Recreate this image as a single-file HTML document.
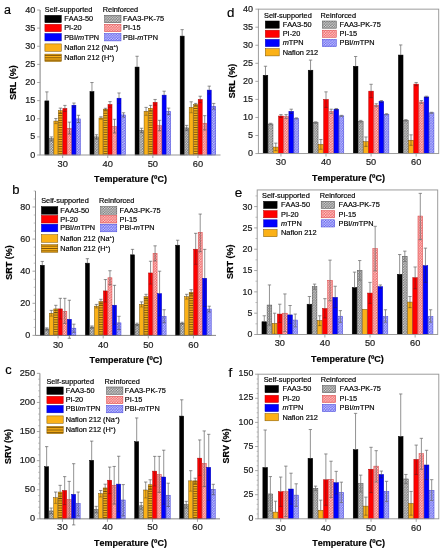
<!DOCTYPE html>
<html><head><meta charset="utf-8"><title>Swelling ratio figure</title>
<style>html,body{margin:0;padding:0;background:#fff}body{width:442px;height:550px;overflow:hidden}svg{display:block}text{font-family:"Liberation Sans", Arial, sans-serif;font-kerning:none;stroke:#000;stroke-width:0.18px;paint-order:stroke}</style>
</head><body>
<svg width="442" height="550" viewBox="0 0 442 550">
<defs>
<pattern id="pg" width="2.6" height="2.6" patternUnits="userSpaceOnUse"><rect width="2.6" height="2.6" fill="#707070"/><path d="M-0.29 0.65L0.65 -0.29L1.59 0.65L0.65 1.59ZM1.01 1.95L1.95 1.01L2.89 1.95L1.95 2.89Z" fill="#ececec"/></pattern>
<pattern id="pp" width="2.6" height="2.6" patternUnits="userSpaceOnUse"><rect width="2.6" height="2.6" fill="#f05c5c"/><path d="M-0.29 0.65L0.65 -0.29L1.59 0.65L0.65 1.59ZM1.01 1.95L1.95 1.01L2.89 1.95L1.95 2.89Z" fill="#ffe2e2"/></pattern>
<pattern id="pb" width="2.6" height="2.6" patternUnits="userSpaceOnUse"><rect width="2.6" height="2.6" fill="#5c5cf0"/><path d="M-0.29 0.65L0.65 -0.29L1.59 0.65L0.65 1.59ZM1.01 1.95L1.95 1.01L2.89 1.95L1.95 2.89Z" fill="#e2e2ff"/></pattern>
<pattern id="po" width="4" height="2.38" patternUnits="userSpaceOnUse"><rect width="4" height="2.38" fill="#fbb117"/><path d="M0 1.19H4" stroke="#7a4e00" stroke-width="0.95"/></pattern>
</defs>
<rect width="442" height="550" fill="#fff"/>
<g>
<rect x="44.86" y="100.9" width="4.01" height="54.1" fill="#000000" stroke="#000000" stroke-width="0.5"/>
<path d="M46.87 91.9V100.9M45.22 91.9H48.52" stroke="#4a4a4a" stroke-width="0.6" fill="none"/>
<rect x="49.37" y="138.7" width="4.01" height="16.3" fill="url(#pg)" stroke="#4a4a4a" stroke-width="0.5"/>
<path d="M51.38 136.9V138.7M49.73 136.9H53.02" stroke="#4a4a4a" stroke-width="0.6" fill="none"/>
<path d="M51.38 138.7V140.86M49.73 140.86H53.02" stroke="#4a4a4a" stroke-width="0.6" fill="none"/>
<rect x="53.88" y="121.06" width="4.01" height="33.94" fill="#fbb117" stroke="#7a5200" stroke-width="0.5"/>
<path d="M55.89 118.54V121.06M54.24 118.54H57.54" stroke="#4a4a4a" stroke-width="0.6" fill="none"/>
<path d="M55.89 121.06V123.58M54.24 123.58H57.54" stroke="#222" stroke-width="0.6" fill="none" opacity="0.55"/>
<rect x="58.39" y="110.62" width="4.01" height="44.38" fill="#fbb117" stroke="#7a5200" stroke-width="0.5"/>
<path d="M58.44 153.7H62.35M58.44 151.32H62.35M58.44 148.94H62.35M58.44 146.56H62.35M58.44 144.18H62.35M58.44 141.8H62.35M58.44 139.42H62.35M58.44 137.04H62.35M58.44 134.66H62.35M58.44 132.28H62.35M58.44 129.9H62.35M58.44 127.52H62.35M58.44 125.14H62.35M58.44 122.76H62.35M58.44 120.38H62.35M58.44 118H62.35M58.44 115.62H62.35M58.44 113.24H62.35" stroke="#4e3000" stroke-width="0.7" fill="none"/>
<path d="M60.4 108.1V110.62M58.75 108.1H62.05" stroke="#4a4a4a" stroke-width="0.6" fill="none"/>
<path d="M60.4 110.62V113.14M58.75 113.14H62.05" stroke="#222" stroke-width="0.6" fill="none" opacity="0.55"/>
<rect x="62.9" y="108.46" width="4.01" height="46.54" fill="#ff0000" stroke="#b00000" stroke-width="0.5"/>
<path d="M64.91 105.4V108.46M63.26 105.4H66.56" stroke="#4a4a4a" stroke-width="0.6" fill="none"/>
<path d="M64.91 108.46V111.52M63.26 111.52H66.56" stroke="#222" stroke-width="0.6" fill="none" opacity="0.55"/>
<rect x="67.41" y="128.26" width="4.01" height="26.74" fill="url(#pp)" stroke="#d84040" stroke-width="0.5"/>
<path d="M69.41 122.14V128.26M67.76 122.14H71.06" stroke="#4a4a4a" stroke-width="0.6" fill="none"/>
<path d="M69.41 128.26V134.02M67.76 134.02H71.06" stroke="#4a4a4a" stroke-width="0.6" fill="none"/>
<rect x="71.92" y="105.22" width="4.01" height="49.78" fill="#0000ff" stroke="#0000b0" stroke-width="0.5"/>
<path d="M73.92 103.06V105.22M72.27 103.06H75.58" stroke="#4a4a4a" stroke-width="0.6" fill="none"/>
<path d="M73.92 105.22V107.38M72.27 107.38H75.58" stroke="#222" stroke-width="0.6" fill="none" opacity="0.55"/>
<rect x="76.43" y="118.9" width="4.01" height="36.1" fill="url(#pb)" stroke="#4040d8" stroke-width="0.5"/>
<path d="M78.44 115.3V118.9M76.78 115.3H80.09" stroke="#4a4a4a" stroke-width="0.6" fill="none"/>
<path d="M78.44 118.9V122.5M76.78 122.5H80.09" stroke="#4a4a4a" stroke-width="0.6" fill="none"/>
<rect x="89.96" y="91.54" width="4.01" height="63.46" fill="#000000" stroke="#000000" stroke-width="0.5"/>
<path d="M91.96 82.54V91.54M90.31 82.54H93.61" stroke="#4a4a4a" stroke-width="0.6" fill="none"/>
<rect x="94.47" y="136.9" width="4.01" height="18.1" fill="url(#pg)" stroke="#4a4a4a" stroke-width="0.5"/>
<path d="M96.47 134.74V136.9M94.82 134.74H98.12" stroke="#4a4a4a" stroke-width="0.6" fill="none"/>
<path d="M96.47 136.9V139.06M94.82 139.06H98.12" stroke="#4a4a4a" stroke-width="0.6" fill="none"/>
<rect x="98.98" y="118" width="4.01" height="37" fill="#fbb117" stroke="#7a5200" stroke-width="0.5"/>
<path d="M100.98 116.74V118M99.33 116.74H102.63" stroke="#4a4a4a" stroke-width="0.6" fill="none"/>
<path d="M100.98 118V119.26M99.33 119.26H102.63" stroke="#222" stroke-width="0.6" fill="none" opacity="0.55"/>
<rect x="103.49" y="109.18" width="4.01" height="45.82" fill="#fbb117" stroke="#7a5200" stroke-width="0.5"/>
<path d="M103.54 153.7H107.45M103.54 151.32H107.45M103.54 148.94H107.45M103.54 146.56H107.45M103.54 144.18H107.45M103.54 141.8H107.45M103.54 139.42H107.45M103.54 137.04H107.45M103.54 134.66H107.45M103.54 132.28H107.45M103.54 129.9H107.45M103.54 127.52H107.45M103.54 125.14H107.45M103.54 122.76H107.45M103.54 120.38H107.45M103.54 118H107.45M103.54 115.62H107.45M103.54 113.24H107.45M103.54 110.86H107.45" stroke="#4e3000" stroke-width="0.7" fill="none"/>
<path d="M105.49 108.28V109.18M103.84 108.28H107.14" stroke="#4a4a4a" stroke-width="0.6" fill="none"/>
<path d="M105.49 109.18V110.08M103.84 110.08H107.14" stroke="#222" stroke-width="0.6" fill="none" opacity="0.55"/>
<rect x="108" y="104.5" width="4.01" height="50.5" fill="#ff0000" stroke="#b00000" stroke-width="0.5"/>
<path d="M110 101.62V104.5M108.35 101.62H111.66" stroke="#4a4a4a" stroke-width="0.6" fill="none"/>
<path d="M110 104.5V107.38M108.35 107.38H111.66" stroke="#222" stroke-width="0.6" fill="none" opacity="0.55"/>
<rect x="112.51" y="126.46" width="4.01" height="28.54" fill="url(#pp)" stroke="#d84040" stroke-width="0.5"/>
<path d="M114.51 119.26V126.46M112.86 119.26H116.16" stroke="#4a4a4a" stroke-width="0.6" fill="none"/>
<path d="M114.51 126.46V132.94M112.86 132.94H116.16" stroke="#4a4a4a" stroke-width="0.6" fill="none"/>
<rect x="117.02" y="98.2" width="4.01" height="56.8" fill="#0000ff" stroke="#0000b0" stroke-width="0.5"/>
<path d="M119.02 92.98V98.2M117.37 92.98H120.67" stroke="#4a4a4a" stroke-width="0.6" fill="none"/>
<path d="M119.02 98.2V103.42M117.37 103.42H120.67" stroke="#222" stroke-width="0.6" fill="none" opacity="0.55"/>
<rect x="121.53" y="114.94" width="4.01" height="40.06" fill="url(#pb)" stroke="#4040d8" stroke-width="0.5"/>
<path d="M123.53 112.78V114.94M121.88 112.78H125.19" stroke="#4a4a4a" stroke-width="0.6" fill="none"/>
<path d="M123.53 114.94V117.1M121.88 117.1H125.19" stroke="#4a4a4a" stroke-width="0.6" fill="none"/>
<rect x="135.06" y="67.06" width="4.01" height="87.94" fill="#000000" stroke="#000000" stroke-width="0.5"/>
<path d="M137.06 56.26V67.06M135.41 56.26H138.72" stroke="#4a4a4a" stroke-width="0.6" fill="none"/>
<rect x="139.57" y="130.42" width="4.01" height="24.58" fill="url(#pg)" stroke="#4a4a4a" stroke-width="0.5"/>
<path d="M141.57 128.26V130.42M139.92 128.26H143.22" stroke="#4a4a4a" stroke-width="0.6" fill="none"/>
<path d="M141.57 130.42V132.58M139.92 132.58H143.22" stroke="#4a4a4a" stroke-width="0.6" fill="none"/>
<rect x="144.08" y="111.34" width="4.01" height="43.66" fill="#fbb117" stroke="#7a5200" stroke-width="0.5"/>
<path d="M146.09 107.38V111.34M144.44 107.38H147.74" stroke="#4a4a4a" stroke-width="0.6" fill="none"/>
<path d="M146.09 111.34V115.3M144.44 115.3H147.74" stroke="#222" stroke-width="0.6" fill="none" opacity="0.55"/>
<rect x="148.59" y="108.28" width="4.01" height="46.72" fill="#fbb117" stroke="#7a5200" stroke-width="0.5"/>
<path d="M148.64 153.7H152.55M148.64 151.32H152.55M148.64 148.94H152.55M148.64 146.56H152.55M148.64 144.18H152.55M148.64 141.8H152.55M148.64 139.42H152.55M148.64 137.04H152.55M148.64 134.66H152.55M148.64 132.28H152.55M148.64 129.9H152.55M148.64 127.52H152.55M148.64 125.14H152.55M148.64 122.76H152.55M148.64 120.38H152.55M148.64 118H152.55M148.64 115.62H152.55M148.64 113.24H152.55M148.64 110.86H152.55" stroke="#4e3000" stroke-width="0.7" fill="none"/>
<path d="M150.59 105.4V108.28M148.94 105.4H152.25" stroke="#4a4a4a" stroke-width="0.6" fill="none"/>
<path d="M150.59 108.28V111.16M148.94 111.16H152.25" stroke="#222" stroke-width="0.6" fill="none" opacity="0.55"/>
<rect x="153.1" y="102.34" width="4.01" height="52.66" fill="#ff0000" stroke="#b00000" stroke-width="0.5"/>
<path d="M155.1 99.46V102.34M153.45 99.46H156.75" stroke="#4a4a4a" stroke-width="0.6" fill="none"/>
<path d="M155.1 102.34V105.22M153.45 105.22H156.75" stroke="#222" stroke-width="0.6" fill="none" opacity="0.55"/>
<rect x="157.61" y="125.74" width="4.01" height="29.26" fill="url(#pp)" stroke="#d84040" stroke-width="0.5"/>
<path d="M159.62 120.34V125.74M157.97 120.34H161.27" stroke="#4a4a4a" stroke-width="0.6" fill="none"/>
<path d="M159.62 125.74V130.78M157.97 130.78H161.27" stroke="#4a4a4a" stroke-width="0.6" fill="none"/>
<rect x="162.12" y="95.14" width="4.01" height="59.86" fill="#0000ff" stroke="#0000b0" stroke-width="0.5"/>
<path d="M164.12 91.18V95.14M162.47 91.18H165.78" stroke="#4a4a4a" stroke-width="0.6" fill="none"/>
<path d="M164.12 95.14V99.1M162.47 99.1H165.78" stroke="#222" stroke-width="0.6" fill="none" opacity="0.55"/>
<rect x="166.63" y="111.34" width="4.01" height="43.66" fill="url(#pb)" stroke="#4040d8" stroke-width="0.5"/>
<path d="M168.63 108.1V111.34M166.98 108.1H170.28" stroke="#4a4a4a" stroke-width="0.6" fill="none"/>
<path d="M168.63 111.34V114.58M166.98 114.58H170.28" stroke="#4a4a4a" stroke-width="0.6" fill="none"/>
<rect x="180.16" y="36.1" width="4.01" height="118.9" fill="#000000" stroke="#000000" stroke-width="0.5"/>
<path d="M182.16 29.62V36.1M180.51 29.62H183.81" stroke="#4a4a4a" stroke-width="0.6" fill="none"/>
<rect x="184.67" y="127.9" width="4.01" height="27.1" fill="url(#pg)" stroke="#4a4a4a" stroke-width="0.5"/>
<path d="M186.67 125.38V127.9M185.02 125.38H188.32" stroke="#4a4a4a" stroke-width="0.6" fill="none"/>
<path d="M186.67 127.9V130.42M185.02 130.42H188.32" stroke="#4a4a4a" stroke-width="0.6" fill="none"/>
<rect x="189.18" y="107.38" width="4.01" height="47.62" fill="#fbb117" stroke="#7a5200" stroke-width="0.5"/>
<path d="M191.19 101.8V107.38M189.53 101.8H192.84" stroke="#4a4a4a" stroke-width="0.6" fill="none"/>
<path d="M191.19 107.38V112.78M189.53 112.78H192.84" stroke="#222" stroke-width="0.6" fill="none" opacity="0.55"/>
<rect x="193.69" y="104.5" width="4.01" height="50.5" fill="#fbb117" stroke="#7a5200" stroke-width="0.5"/>
<path d="M193.74 153.7H197.65M193.74 151.32H197.65M193.74 148.94H197.65M193.74 146.56H197.65M193.74 144.18H197.65M193.74 141.8H197.65M193.74 139.42H197.65M193.74 137.04H197.65M193.74 134.66H197.65M193.74 132.28H197.65M193.74 129.9H197.65M193.74 127.52H197.65M193.74 125.14H197.65M193.74 122.76H197.65M193.74 120.38H197.65M193.74 118H197.65M193.74 115.62H197.65M193.74 113.24H197.65M193.74 110.86H197.65M193.74 108.48H197.65M193.74 106.1H197.65" stroke="#4e3000" stroke-width="0.7" fill="none"/>
<path d="M195.69 103.42V104.5M194.04 103.42H197.34" stroke="#4a4a4a" stroke-width="0.6" fill="none"/>
<path d="M195.69 104.5V105.58M194.04 105.58H197.34" stroke="#222" stroke-width="0.6" fill="none" opacity="0.55"/>
<rect x="198.2" y="99.46" width="4.01" height="55.54" fill="#ff0000" stroke="#b00000" stroke-width="0.5"/>
<path d="M200.2 96.22V99.46M198.55 96.22H201.85" stroke="#4a4a4a" stroke-width="0.6" fill="none"/>
<path d="M200.2 99.46V102.7M198.55 102.7H201.85" stroke="#222" stroke-width="0.6" fill="none" opacity="0.55"/>
<rect x="202.71" y="123.22" width="4.01" height="31.78" fill="url(#pp)" stroke="#d84040" stroke-width="0.5"/>
<path d="M204.72 115.66V123.22M203.06 115.66H206.37" stroke="#4a4a4a" stroke-width="0.6" fill="none"/>
<path d="M204.72 123.22V130.06M203.06 130.06H206.37" stroke="#4a4a4a" stroke-width="0.6" fill="none"/>
<rect x="207.22" y="90.1" width="4.01" height="64.9" fill="#0000ff" stroke="#0000b0" stroke-width="0.5"/>
<path d="M209.22 86.14V90.1M207.57 86.14H210.88" stroke="#4a4a4a" stroke-width="0.6" fill="none"/>
<path d="M209.22 90.1V94.06M207.57 94.06H210.88" stroke="#222" stroke-width="0.6" fill="none" opacity="0.55"/>
<rect x="211.73" y="106.3" width="4.01" height="48.7" fill="url(#pb)" stroke="#4040d8" stroke-width="0.5"/>
<path d="M213.73 103.42V106.3M212.08 103.42H215.38" stroke="#4a4a4a" stroke-width="0.6" fill="none"/>
<path d="M213.73 106.3V109.18M212.08 109.18H215.38" stroke="#4a4a4a" stroke-width="0.6" fill="none"/>
<path d="M40.1 10V155H220.5" fill="none" stroke="#989898" stroke-width="1.2"/>
<text x="35.3" y="157.52" font-size="9" text-anchor="end" fill="#1a1a1a">0</text>
<text x="35.3" y="139.4" font-size="9" text-anchor="end" fill="#1a1a1a">5</text>
<text x="35.3" y="121.27" font-size="9" text-anchor="end" fill="#1a1a1a">10</text>
<text x="35.3" y="103.15" font-size="9" text-anchor="end" fill="#1a1a1a">15</text>
<text x="35.3" y="85.02" font-size="9" text-anchor="end" fill="#1a1a1a">20</text>
<text x="35.3" y="66.9" font-size="9" text-anchor="end" fill="#1a1a1a">25</text>
<text x="35.3" y="48.77" font-size="9" text-anchor="end" fill="#1a1a1a">30</text>
<text x="35.3" y="30.65" font-size="9" text-anchor="end" fill="#1a1a1a">35</text>
<text x="35.3" y="12.52" font-size="9" text-anchor="end" fill="#1a1a1a">40</text>
<path d="M37.1 155H40.1M37.1 136.88H40.1M37.1 118.75H40.1M37.1 100.62H40.1M37.1 82.5H40.1M37.1 64.38H40.1M37.1 46.25H40.1M37.1 28.12H40.1M37.1 10H40.1" stroke="#909090" stroke-width="0.8" fill="none"/>
<text x="62.65" y="167" font-size="9.3" text-anchor="middle" fill="#1a1a1a">30</text>
<text x="107.75" y="167" font-size="9.3" text-anchor="middle" fill="#1a1a1a">40</text>
<text x="152.85" y="167" font-size="9.3" text-anchor="middle" fill="#1a1a1a">50</text>
<text x="197.95" y="167" font-size="9.3" text-anchor="middle" fill="#1a1a1a">60</text>
<path d="M62.65 155V158M107.75 155V158M152.85 155V158M197.95 155V158" stroke="#909090" stroke-width="0.8" fill="none"/>
<text x="130.5" y="182.3" font-size="9" font-weight="bold" text-anchor="middle" fill="#000">Temperature (ºC)</text>
<text transform="translate(15.9 82.5) rotate(-90)" font-size="9" font-weight="bold" text-anchor="middle" fill="#000">SRL (%)</text>
<text x="4" y="13.6" font-size="12.5" fill="#000">a</text>
<text x="44.8" y="11.8" font-size="7.32" fill="#000">Self-supported</text>
<rect x="44.9" y="15.3" width="16.4" height="7.4" fill="#000000" stroke="#000000" stroke-width="0.5"/>
<text x="64.2" y="21.32" font-size="7.32" fill="#000">FAA3-50</text>
<rect x="44.9" y="24.3" width="16.4" height="7.4" fill="#ff0000" stroke="#b00000" stroke-width="0.5"/>
<text x="64.2" y="30.32" font-size="7.32" fill="#000">PI-20</text>
<rect x="44.9" y="33.5" width="16.4" height="7.4" fill="#0000ff" stroke="#0000b0" stroke-width="0.5"/>
<text x="64.2" y="39.52" font-size="7.32" fill="#000">PBI/<tspan font-style="italic">m</tspan><tspan dx="0.3">TPN</tspan></text>
<rect x="44.9" y="43.9" width="16.4" height="7.4" fill="#fbb117" stroke="#7a5200" stroke-width="0.5"/>
<text x="64.2" y="49.92" font-size="7.32" fill="#000">Nafion 212 (Na<tspan dy="-3" font-size="4.2">+</tspan><tspan dy="3">)</tspan></text>
<rect x="44.9" y="54.1" width="16.4" height="7.4" fill="#fbb117" stroke="#7a5200" stroke-width="0.5"/>
<path d="M44.9 55.42H61.3M44.9 57.8H61.3M44.9 60.18H61.3" stroke="#4e3000" stroke-width="0.7" fill="none"/>
<text x="64.2" y="60.12" font-size="7.32" fill="#000">Nafion 212 (H<tspan dy="-3" font-size="4.2">+</tspan><tspan dy="3">)</tspan></text>
<text x="102.8" y="11.8" font-size="7.32" fill="#000">Reinforced</text>
<rect x="104.6" y="15.3" width="16.4" height="7.4" fill="url(#pg)" stroke="#4a4a4a" stroke-width="0.5"/>
<text x="123" y="21.32" font-size="7.32" fill="#000">FAA3-PK-75</text>
<rect x="104.6" y="24.3" width="16.4" height="7.4" fill="url(#pp)" stroke="#d84040" stroke-width="0.5"/>
<text x="123" y="30.32" font-size="7.32" fill="#000">PI-15</text>
<rect x="104.6" y="33.5" width="16.4" height="7.4" fill="url(#pb)" stroke="#4040d8" stroke-width="0.5"/>
<text x="123" y="39.52" font-size="7.32" fill="#000">PBI-<tspan font-style="italic">m</tspan>TPN</text>
</g>
<g>
<rect x="40.26" y="265.26" width="4.01" height="70.14" fill="#000000" stroke="#000000" stroke-width="0.5"/>
<path d="M42.27 261.41V265.26M40.62 261.41H43.92" stroke="#4a4a4a" stroke-width="0.6" fill="none"/>
<rect x="44.78" y="328.98" width="4.01" height="6.42" fill="url(#pg)" stroke="#4a4a4a" stroke-width="0.5"/>
<path d="M46.78 327.86V328.98M45.13 327.86H48.43" stroke="#4a4a4a" stroke-width="0.6" fill="none"/>
<path d="M46.78 328.98V330.1M45.13 330.1H48.43" stroke="#4a4a4a" stroke-width="0.6" fill="none"/>
<rect x="49.29" y="313.25" width="4.01" height="22.15" fill="#fbb117" stroke="#7a5200" stroke-width="0.5"/>
<path d="M51.29 310.36V313.25M49.64 310.36H52.94" stroke="#4a4a4a" stroke-width="0.6" fill="none"/>
<path d="M51.29 313.25V316.14M49.64 316.14H52.94" stroke="#222" stroke-width="0.6" fill="none" opacity="0.55"/>
<rect x="53.8" y="308.92" width="4.01" height="26.48" fill="#fbb117" stroke="#7a5200" stroke-width="0.5"/>
<path d="M53.85 334.1H57.76M53.85 331.72H57.76M53.85 329.34H57.76M53.85 326.96H57.76M53.85 324.58H57.76M53.85 322.2H57.76M53.85 319.82H57.76M53.85 317.44H57.76M53.85 315.06H57.76M53.85 312.68H57.76M53.85 310.3H57.76" stroke="#4e3000" stroke-width="0.7" fill="none"/>
<path d="M55.81 305.31V308.92M54.16 305.31H57.46" stroke="#4a4a4a" stroke-width="0.6" fill="none"/>
<path d="M55.81 308.92V312.61M54.16 312.61H57.46" stroke="#222" stroke-width="0.6" fill="none" opacity="0.55"/>
<rect x="58.31" y="308.92" width="4.01" height="26.48" fill="#ff0000" stroke="#b00000" stroke-width="0.5"/>
<path d="M60.32 298.32V308.92M58.67 298.32H61.97" stroke="#4a4a4a" stroke-width="0.6" fill="none"/>
<path d="M60.32 308.92V319.03M58.67 319.03H61.97" stroke="#222" stroke-width="0.6" fill="none" opacity="0.55"/>
<rect x="62.83" y="311.32" width="4.01" height="24.07" fill="url(#pp)" stroke="#d84040" stroke-width="0.5"/>
<path d="M64.83 298.32V311.32M63.18 298.32H66.48" stroke="#4a4a4a" stroke-width="0.6" fill="none"/>
<path d="M64.83 311.32V323.36M63.18 323.36H66.48" stroke="#4a4a4a" stroke-width="0.6" fill="none"/>
<rect x="67.34" y="319.35" width="4.01" height="16.05" fill="#0000ff" stroke="#0000b0" stroke-width="0.5"/>
<path d="M69.34 300.25V319.35M67.69 300.25H70.99" stroke="#4a4a4a" stroke-width="0.6" fill="none"/>
<path d="M69.34 319.35V335.4" stroke="#222" stroke-width="0.6" fill="none" opacity="0.55"/>
<path d="M69.34 335.4V338.29M67.69 338.29H70.99" stroke="#4a4a4a" stroke-width="0.6" fill="none"/>
<rect x="71.85" y="328.18" width="4.01" height="7.22" fill="url(#pb)" stroke="#4040d8" stroke-width="0.5"/>
<path d="M73.86 324.16V328.18M72.21 324.16H75.51" stroke="#4a4a4a" stroke-width="0.6" fill="none"/>
<path d="M73.86 328.18V332.35M72.21 332.35H75.51" stroke="#4a4a4a" stroke-width="0.6" fill="none"/>
<rect x="85.39" y="263.17" width="4.01" height="72.23" fill="#000000" stroke="#000000" stroke-width="0.5"/>
<path d="M87.39 258.68V263.17M85.74 258.68H89.04" stroke="#4a4a4a" stroke-width="0.6" fill="none"/>
<rect x="89.9" y="327.05" width="4.01" height="8.35" fill="url(#pg)" stroke="#4a4a4a" stroke-width="0.5"/>
<path d="M91.91 325.93V327.05M90.26 325.93H93.56" stroke="#4a4a4a" stroke-width="0.6" fill="none"/>
<path d="M91.91 327.05V328.18M90.26 328.18H93.56" stroke="#4a4a4a" stroke-width="0.6" fill="none"/>
<rect x="94.41" y="306.19" width="4.01" height="29.21" fill="#fbb117" stroke="#7a5200" stroke-width="0.5"/>
<path d="M96.42 304.42V306.19M94.77 304.42H98.07" stroke="#4a4a4a" stroke-width="0.6" fill="none"/>
<path d="M96.42 306.19V307.95M94.77 307.95H98.07" stroke="#222" stroke-width="0.6" fill="none" opacity="0.55"/>
<rect x="98.93" y="301.69" width="4.01" height="33.7" fill="#fbb117" stroke="#7a5200" stroke-width="0.5"/>
<path d="M98.98 334.1H102.89M98.98 331.72H102.89M98.98 329.34H102.89M98.98 326.96H102.89M98.98 324.58H102.89M98.98 322.2H102.89M98.98 319.82H102.89M98.98 317.44H102.89M98.98 315.06H102.89M98.98 312.68H102.89M98.98 310.3H102.89M98.98 307.92H102.89M98.98 305.54H102.89M98.98 303.16H102.89" stroke="#4e3000" stroke-width="0.7" fill="none"/>
<path d="M100.93 299.29V301.69M99.28 299.29H102.58" stroke="#4a4a4a" stroke-width="0.6" fill="none"/>
<path d="M100.93 301.69V304.1M99.28 304.1H102.58" stroke="#222" stroke-width="0.6" fill="none" opacity="0.55"/>
<rect x="103.44" y="290.94" width="4.01" height="44.46" fill="#ff0000" stroke="#b00000" stroke-width="0.5"/>
<path d="M105.44 279.55V290.94M103.79 279.55H107.09" stroke="#4a4a4a" stroke-width="0.6" fill="none"/>
<path d="M105.44 290.94V302.02M103.79 302.02H107.09" stroke="#222" stroke-width="0.6" fill="none" opacity="0.55"/>
<rect x="107.95" y="277.78" width="4.01" height="57.62" fill="url(#pp)" stroke="#d84040" stroke-width="0.5"/>
<path d="M109.96 270.72V277.78M108.31 270.72H111.61" stroke="#4a4a4a" stroke-width="0.6" fill="none"/>
<path d="M109.96 277.78V284.84M108.31 284.84H111.61" stroke="#4a4a4a" stroke-width="0.6" fill="none"/>
<rect x="112.46" y="305.23" width="4.01" height="30.17" fill="#0000ff" stroke="#0000b0" stroke-width="0.5"/>
<path d="M114.47 285.32V305.23M112.82 285.32H116.12" stroke="#4a4a4a" stroke-width="0.6" fill="none"/>
<path d="M114.47 305.23V324.33M112.82 324.33H116.12" stroke="#222" stroke-width="0.6" fill="none" opacity="0.55"/>
<rect x="116.98" y="322.88" width="4.01" height="12.52" fill="url(#pb)" stroke="#4040d8" stroke-width="0.5"/>
<path d="M118.98 316.3V322.88M117.33 316.3H120.63" stroke="#4a4a4a" stroke-width="0.6" fill="none"/>
<path d="M118.98 322.88V329.62M117.33 329.62H120.63" stroke="#4a4a4a" stroke-width="0.6" fill="none"/>
<rect x="130.51" y="254.83" width="4.01" height="80.57" fill="#000000" stroke="#000000" stroke-width="0.5"/>
<path d="M132.52 249.37V254.83M130.87 249.37H134.17" stroke="#4a4a4a" stroke-width="0.6" fill="none"/>
<rect x="135.02" y="324.33" width="4.01" height="11.07" fill="url(#pg)" stroke="#4a4a4a" stroke-width="0.5"/>
<path d="M137.03 323.2V324.33M135.38 323.2H138.68" stroke="#4a4a4a" stroke-width="0.6" fill="none"/>
<path d="M137.03 324.33V325.45M135.38 325.45H138.68" stroke="#4a4a4a" stroke-width="0.6" fill="none"/>
<rect x="139.54" y="304.42" width="4.01" height="30.98" fill="#fbb117" stroke="#7a5200" stroke-width="0.5"/>
<path d="M141.54 301.86V304.42M139.89 301.86H143.19" stroke="#4a4a4a" stroke-width="0.6" fill="none"/>
<path d="M141.54 304.42V306.99M139.89 306.99H143.19" stroke="#222" stroke-width="0.6" fill="none" opacity="0.55"/>
<rect x="144.05" y="296.72" width="4.01" height="38.68" fill="#fbb117" stroke="#7a5200" stroke-width="0.5"/>
<path d="M144.1 334.1H148.01M144.1 331.72H148.01M144.1 329.34H148.01M144.1 326.96H148.01M144.1 324.58H148.01M144.1 322.2H148.01M144.1 319.82H148.01M144.1 317.44H148.01M144.1 315.06H148.01M144.1 312.68H148.01M144.1 310.3H148.01M144.1 307.92H148.01M144.1 305.54H148.01M144.1 303.16H148.01M144.1 300.78H148.01M144.1 298.4H148.01" stroke="#4e3000" stroke-width="0.7" fill="none"/>
<path d="M146.06 294.31V296.72M144.41 294.31H147.71" stroke="#4a4a4a" stroke-width="0.6" fill="none"/>
<path d="M146.06 296.72V299.13M144.41 299.13H147.71" stroke="#222" stroke-width="0.6" fill="none" opacity="0.55"/>
<rect x="148.56" y="272.97" width="4.01" height="62.43" fill="#ff0000" stroke="#b00000" stroke-width="0.5"/>
<path d="M150.57 261.25V272.97M148.92 261.25H152.22" stroke="#4a4a4a" stroke-width="0.6" fill="none"/>
<path d="M150.57 272.97V284.04M148.92 284.04H152.22" stroke="#222" stroke-width="0.6" fill="none" opacity="0.55"/>
<rect x="153.07" y="253.38" width="4.01" height="82.02" fill="url(#pp)" stroke="#d84040" stroke-width="0.5"/>
<path d="M155.08 245.84V253.38M153.43 245.84H156.73" stroke="#4a4a4a" stroke-width="0.6" fill="none"/>
<path d="M155.08 253.38V260.93M153.43 260.93H156.73" stroke="#4a4a4a" stroke-width="0.6" fill="none"/>
<rect x="157.59" y="293.67" width="4.01" height="41.73" fill="#0000ff" stroke="#0000b0" stroke-width="0.5"/>
<path d="M159.59 271.2V293.67M157.94 271.2H161.24" stroke="#4a4a4a" stroke-width="0.6" fill="none"/>
<path d="M159.59 293.67V315.82M157.94 315.82H161.24" stroke="#222" stroke-width="0.6" fill="none" opacity="0.55"/>
<rect x="162.1" y="316.3" width="4.01" height="19.1" fill="url(#pb)" stroke="#4040d8" stroke-width="0.5"/>
<path d="M164.11 309.72V316.3M162.46 309.72H165.76" stroke="#4a4a4a" stroke-width="0.6" fill="none"/>
<path d="M164.11 316.3V322.72M162.46 322.72H165.76" stroke="#4a4a4a" stroke-width="0.6" fill="none"/>
<rect x="175.64" y="245.2" width="4.01" height="90.2" fill="#000000" stroke="#000000" stroke-width="0.5"/>
<path d="M177.64 240.22V245.2M175.99 240.22H179.29" stroke="#4a4a4a" stroke-width="0.6" fill="none"/>
<rect x="180.15" y="323.2" width="4.01" height="12.2" fill="url(#pg)" stroke="#4a4a4a" stroke-width="0.5"/>
<path d="M182.16 322.24V323.2M180.51 322.24H183.81" stroke="#4a4a4a" stroke-width="0.6" fill="none"/>
<path d="M182.16 323.2V324.16M180.51 324.16H183.81" stroke="#4a4a4a" stroke-width="0.6" fill="none"/>
<rect x="184.66" y="296.72" width="4.01" height="38.68" fill="#fbb117" stroke="#7a5200" stroke-width="0.5"/>
<path d="M186.67 294.31V296.72M185.02 294.31H188.32" stroke="#4a4a4a" stroke-width="0.6" fill="none"/>
<path d="M186.67 296.72V299.13M185.02 299.13H188.32" stroke="#222" stroke-width="0.6" fill="none" opacity="0.55"/>
<rect x="189.17" y="292.39" width="4.01" height="43.01" fill="#fbb117" stroke="#7a5200" stroke-width="0.5"/>
<path d="M189.22 334.1H193.14M189.22 331.72H193.14M189.22 329.34H193.14M189.22 326.96H193.14M189.22 324.58H193.14M189.22 322.2H193.14M189.22 319.82H193.14M189.22 317.44H193.14M189.22 315.06H193.14M189.22 312.68H193.14M189.22 310.3H193.14M189.22 307.92H193.14M189.22 305.54H193.14M189.22 303.16H193.14M189.22 300.78H193.14M189.22 298.4H193.14M189.22 296.02H193.14M189.22 293.64H193.14" stroke="#4e3000" stroke-width="0.7" fill="none"/>
<path d="M191.18 289.66V292.39M189.53 289.66H192.83" stroke="#4a4a4a" stroke-width="0.6" fill="none"/>
<path d="M191.18 292.39V295.11M189.53 295.11H192.83" stroke="#222" stroke-width="0.6" fill="none" opacity="0.55"/>
<rect x="193.69" y="249.21" width="4.01" height="86.19" fill="#ff0000" stroke="#b00000" stroke-width="0.5"/>
<path d="M195.69 233.32V249.21M194.04 233.32H197.34" stroke="#4a4a4a" stroke-width="0.6" fill="none"/>
<path d="M195.69 249.21V264.3M194.04 264.3H197.34" stroke="#222" stroke-width="0.6" fill="none" opacity="0.55"/>
<rect x="198.2" y="232.36" width="4.01" height="103.04" fill="url(#pp)" stroke="#d84040" stroke-width="0.5"/>
<path d="M200.21 214.06V232.36M198.56 214.06H201.86" stroke="#4a4a4a" stroke-width="0.6" fill="none"/>
<path d="M200.21 232.36V251.78M198.56 251.78H201.86" stroke="#4a4a4a" stroke-width="0.6" fill="none"/>
<rect x="202.71" y="278.26" width="4.01" height="57.14" fill="#0000ff" stroke="#0000b0" stroke-width="0.5"/>
<path d="M204.72 249.37V278.26M203.07 249.37H206.37" stroke="#4a4a4a" stroke-width="0.6" fill="none"/>
<path d="M204.72 278.26V306.51M203.07 306.51H206.37" stroke="#222" stroke-width="0.6" fill="none" opacity="0.55"/>
<rect x="207.22" y="309.08" width="4.01" height="26.32" fill="url(#pb)" stroke="#4040d8" stroke-width="0.5"/>
<path d="M209.23 306.19V309.08M207.58 306.19H210.88" stroke="#4a4a4a" stroke-width="0.6" fill="none"/>
<path d="M209.23 309.08V311.97M207.58 311.97H210.88" stroke="#4a4a4a" stroke-width="0.6" fill="none"/>
<path d="M35.5 190.95V335.4H216" fill="none" stroke="#727272" stroke-width="0.85"/>
<text x="30.2" y="337.92" font-size="9" text-anchor="end" fill="#1a1a1a">0</text>
<text x="30.2" y="305.82" font-size="9" text-anchor="end" fill="#1a1a1a">20</text>
<text x="30.2" y="273.72" font-size="9" text-anchor="end" fill="#1a1a1a">40</text>
<text x="30.2" y="241.62" font-size="9" text-anchor="end" fill="#1a1a1a">60</text>
<text x="30.2" y="209.52" font-size="9" text-anchor="end" fill="#1a1a1a">80</text>
<path d="M32.5 335.4H35.5M32.5 303.3H35.5M32.5 271.2H35.5M32.5 239.1H35.5M32.5 207H35.5" stroke="#909090" stroke-width="0.8" fill="none"/>
<path d="M33.7 327.38H35.5M33.7 319.35H35.5M33.7 311.32H35.5M33.7 295.27H35.5M33.7 287.25H35.5M33.7 279.22H35.5M33.7 263.17H35.5M33.7 255.15H35.5M33.7 247.12H35.5M33.7 231.07H35.5M33.7 223.05H35.5M33.7 215.02H35.5M33.7 198.97H35.5M33.7 190.95H35.5" stroke="#909090" stroke-width="0.6" fill="none" opacity="0.9"/>
<text x="58.06" y="347.7" font-size="9.3" text-anchor="middle" fill="#1a1a1a">30</text>
<text x="103.19" y="347.7" font-size="9.3" text-anchor="middle" fill="#1a1a1a">40</text>
<text x="148.31" y="347.7" font-size="9.3" text-anchor="middle" fill="#1a1a1a">50</text>
<text x="193.44" y="347.7" font-size="9.3" text-anchor="middle" fill="#1a1a1a">60</text>
<path d="M58.06 335.4V338.4M103.19 335.4V338.4M148.31 335.4V338.4M193.44 335.4V338.4" stroke="#909090" stroke-width="0.8" fill="none"/>
<text x="125.8" y="362.6" font-size="9" font-weight="bold" text-anchor="middle" fill="#000">Temperature (ºC)</text>
<text transform="translate(11.5 262.5) rotate(-90)" font-size="9" font-weight="bold" text-anchor="middle" fill="#000">SRT (%)</text>
<text x="12.3" y="194.3" font-size="13" fill="#000">b</text>
<text x="41.2" y="202.5" font-size="7.32" fill="#000">Self-supported</text>
<rect x="41.4" y="206.6" width="16.4" height="7.6" fill="#000000" stroke="#000000" stroke-width="0.5"/>
<text x="60.3" y="212.72" font-size="7.32" fill="#000">FAA3-50</text>
<rect x="41.4" y="215.4" width="16.4" height="7.6" fill="#ff0000" stroke="#b00000" stroke-width="0.5"/>
<text x="60.3" y="221.52" font-size="7.32" fill="#000">PI-20</text>
<rect x="41.4" y="224.2" width="16.4" height="7.6" fill="#0000ff" stroke="#0000b0" stroke-width="0.5"/>
<text x="60.3" y="230.32" font-size="7.32" fill="#000">PBI/<tspan font-style="italic">m</tspan><tspan dx="0.3">TPN</tspan></text>
<rect x="41.4" y="234.7" width="16.4" height="7.6" fill="#fbb117" stroke="#7a5200" stroke-width="0.5"/>
<text x="60.3" y="240.82" font-size="7.32" fill="#000">Nafion 212 (Na<tspan dy="-3" font-size="4.2">+</tspan><tspan dy="3">)</tspan></text>
<rect x="41.4" y="244.7" width="16.4" height="7.6" fill="#fbb117" stroke="#7a5200" stroke-width="0.5"/>
<path d="M41.4 246.12H57.8M41.4 248.5H57.8M41.4 250.88H57.8" stroke="#4e3000" stroke-width="0.7" fill="none"/>
<text x="60.3" y="250.82" font-size="7.32" fill="#000">Nafion 212 (H<tspan dy="-3" font-size="4.2">+</tspan><tspan dy="3">)</tspan></text>
<text x="99" y="202.5" font-size="7.32" fill="#000">Reinforced</text>
<rect x="100.6" y="206.6" width="16.2" height="7.6" fill="url(#pg)" stroke="#4a4a4a" stroke-width="0.5"/>
<text x="119.6" y="212.72" font-size="7.32" fill="#000">FAA3-PK-75</text>
<rect x="100.6" y="215.4" width="16.2" height="7.6" fill="url(#pp)" stroke="#d84040" stroke-width="0.5"/>
<text x="119.6" y="221.52" font-size="7.32" fill="#000">PI-15</text>
<rect x="100.6" y="224.2" width="16.2" height="7.6" fill="url(#pb)" stroke="#4040d8" stroke-width="0.5"/>
<text x="119.6" y="230.32" font-size="7.32" fill="#000">PBI-<tspan font-style="italic">m</tspan>TPN</text>
</g>
<g>
<rect x="44.65" y="466.72" width="4" height="52.13" fill="#000000" stroke="#000000" stroke-width="0.5"/>
<path d="M46.65 446.64V466.72M45 446.64H48.3" stroke="#4a4a4a" stroke-width="0.6" fill="none"/>
<rect x="49.15" y="510.95" width="4" height="7.9" fill="url(#pg)" stroke="#4a4a4a" stroke-width="0.5"/>
<path d="M51.16 508.04V510.95M49.51 508.04H52.81" stroke="#4a4a4a" stroke-width="0.6" fill="none"/>
<path d="M51.16 510.95V513.86M49.51 513.86H52.81" stroke="#4a4a4a" stroke-width="0.6" fill="none"/>
<rect x="53.66" y="497.74" width="4" height="21.11" fill="#fbb117" stroke="#7a5200" stroke-width="0.5"/>
<path d="M55.66 492.04V497.74M54.01 492.04H57.31" stroke="#4a4a4a" stroke-width="0.6" fill="none"/>
<path d="M55.66 497.74V503.39M54.01 503.39H57.31" stroke="#222" stroke-width="0.6" fill="none" opacity="0.55"/>
<rect x="58.16" y="492.04" width="4" height="26.81" fill="#fbb117" stroke="#7a5200" stroke-width="0.5"/>
<path d="M58.21 517.55H62.11M58.21 515.17H62.11M58.21 512.79H62.11M58.21 510.41H62.11M58.21 508.03H62.11M58.21 505.65H62.11M58.21 503.27H62.11M58.21 500.89H62.11M58.21 498.51H62.11M58.21 496.13H62.11M58.21 493.75H62.11" stroke="#4e3000" stroke-width="0.7" fill="none"/>
<path d="M60.16 485.34V492.04M58.51 485.34H61.81" stroke="#4a4a4a" stroke-width="0.6" fill="none"/>
<path d="M60.16 492.04V498.9M58.51 498.9H61.81" stroke="#222" stroke-width="0.6" fill="none" opacity="0.55"/>
<rect x="62.66" y="490.47" width="4" height="28.38" fill="#ff0000" stroke="#b00000" stroke-width="0.5"/>
<path d="M64.66 476.61V490.47M63.01 476.61H66.31" stroke="#4a4a4a" stroke-width="0.6" fill="none"/>
<path d="M64.66 490.47V504.55M63.01 504.55H66.31" stroke="#222" stroke-width="0.6" fill="none" opacity="0.55"/>
<rect x="67.16" y="499.54" width="4" height="19.31" fill="url(#pp)" stroke="#d84040" stroke-width="0.5"/>
<path d="M69.17 481.39V499.54M67.52 481.39H70.82" stroke="#4a4a4a" stroke-width="0.6" fill="none"/>
<path d="M69.17 499.54V518.17M67.52 518.17H70.82" stroke="#4a4a4a" stroke-width="0.6" fill="none"/>
<rect x="71.67" y="494.37" width="4" height="24.49" fill="#0000ff" stroke="#0000b0" stroke-width="0.5"/>
<path d="M73.67 463.69V494.37M72.02 463.69H75.32" stroke="#4a4a4a" stroke-width="0.6" fill="none"/>
<path d="M73.67 494.37V518.85" stroke="#222" stroke-width="0.6" fill="none" opacity="0.55"/>
<path d="M73.67 518.85V524.92M72.02 524.92H75.32" stroke="#4a4a4a" stroke-width="0.6" fill="none"/>
<rect x="76.17" y="503.39" width="4" height="15.46" fill="url(#pb)" stroke="#4040d8" stroke-width="0.5"/>
<path d="M78.17 492.04V503.39M76.52 492.04H79.82" stroke="#4a4a4a" stroke-width="0.6" fill="none"/>
<path d="M78.17 503.39V515.9M76.52 515.9H79.82" stroke="#4a4a4a" stroke-width="0.6" fill="none"/>
<rect x="89.68" y="460.32" width="4" height="58.53" fill="#000000" stroke="#000000" stroke-width="0.5"/>
<path d="M91.68 441.11V460.32M90.03 441.11H93.33" stroke="#4a4a4a" stroke-width="0.6" fill="none"/>
<rect x="94.18" y="509.56" width="4" height="9.29" fill="url(#pg)" stroke="#4a4a4a" stroke-width="0.5"/>
<path d="M96.18 506.35V509.56M94.53 506.35H97.83" stroke="#4a4a4a" stroke-width="0.6" fill="none"/>
<path d="M96.18 509.56V512.7M94.53 512.7H97.83" stroke="#4a4a4a" stroke-width="0.6" fill="none"/>
<rect x="98.68" y="493.67" width="4" height="25.18" fill="#fbb117" stroke="#7a5200" stroke-width="0.5"/>
<path d="M100.68 490.47V493.67M99.03 490.47H102.33" stroke="#4a4a4a" stroke-width="0.6" fill="none"/>
<path d="M100.68 493.67V496.98M99.03 496.98H102.33" stroke="#222" stroke-width="0.6" fill="none" opacity="0.55"/>
<rect x="103.19" y="487.96" width="4" height="30.89" fill="#fbb117" stroke="#7a5200" stroke-width="0.5"/>
<path d="M103.23 517.55H107.14M103.23 515.17H107.14M103.23 512.79H107.14M103.23 510.41H107.14M103.23 508.03H107.14M103.23 505.65H107.14M103.23 503.27H107.14M103.23 500.89H107.14M103.23 498.51H107.14M103.23 496.13H107.14M103.23 493.75H107.14M103.23 491.37H107.14M103.23 488.99H107.14" stroke="#4e3000" stroke-width="0.7" fill="none"/>
<path d="M105.19 484.18V487.96M103.54 484.18H106.84" stroke="#4a4a4a" stroke-width="0.6" fill="none"/>
<path d="M105.19 487.96V491.75M103.54 491.75H106.84" stroke="#222" stroke-width="0.6" fill="none" opacity="0.55"/>
<rect x="107.69" y="480.22" width="4" height="38.63" fill="#ff0000" stroke="#b00000" stroke-width="0.5"/>
<path d="M109.69 467.07V480.22M108.04 467.07H111.34" stroke="#4a4a4a" stroke-width="0.6" fill="none"/>
<path d="M109.69 480.22V493.67M108.04 493.67H111.34" stroke="#222" stroke-width="0.6" fill="none" opacity="0.55"/>
<rect x="112.19" y="485.23" width="4" height="33.62" fill="url(#pp)" stroke="#d84040" stroke-width="0.5"/>
<path d="M114.19 466.43V485.23M112.54 466.43H115.84" stroke="#4a4a4a" stroke-width="0.6" fill="none"/>
<path d="M114.19 485.23V504.08M112.54 504.08H115.84" stroke="#4a4a4a" stroke-width="0.6" fill="none"/>
<rect x="116.69" y="484.12" width="4" height="34.73" fill="#0000ff" stroke="#0000b0" stroke-width="0.5"/>
<path d="M118.69 456.24V484.12M117.04 456.24H120.34" stroke="#4a4a4a" stroke-width="0.6" fill="none"/>
<path d="M118.69 484.12V511.83M117.04 511.83H120.34" stroke="#222" stroke-width="0.6" fill="none" opacity="0.55"/>
<rect x="121.19" y="500.01" width="4" height="18.84" fill="url(#pb)" stroke="#4040d8" stroke-width="0.5"/>
<path d="M123.2 484.59V500.01M121.55 484.59H124.85" stroke="#4a4a4a" stroke-width="0.6" fill="none"/>
<path d="M123.2 500.01V515.9M121.55 515.9H124.85" stroke="#4a4a4a" stroke-width="0.6" fill="none"/>
<rect x="134.7" y="441.69" width="4" height="77.16" fill="#000000" stroke="#000000" stroke-width="0.5"/>
<path d="M136.7 417.95V441.69M135.05 417.95H138.35" stroke="#4a4a4a" stroke-width="0.6" fill="none"/>
<rect x="139.21" y="505.83" width="4" height="13.02" fill="url(#pg)" stroke="#4a4a4a" stroke-width="0.5"/>
<path d="M141.21 502.45V505.83M139.56 502.45H142.86" stroke="#4a4a4a" stroke-width="0.6" fill="none"/>
<path d="M141.21 505.83V509.21M139.56 509.21H142.86" stroke="#4a4a4a" stroke-width="0.6" fill="none"/>
<rect x="143.71" y="490" width="4" height="28.85" fill="#fbb117" stroke="#7a5200" stroke-width="0.5"/>
<path d="M145.71 482.03V490M144.06 482.03H147.36" stroke="#4a4a4a" stroke-width="0.6" fill="none"/>
<path d="M145.71 490V497.92M144.06 497.92H147.36" stroke="#222" stroke-width="0.6" fill="none" opacity="0.55"/>
<rect x="148.21" y="484.76" width="4" height="34.09" fill="#fbb117" stroke="#7a5200" stroke-width="0.5"/>
<path d="M148.26 517.55H152.16M148.26 515.17H152.16M148.26 512.79H152.16M148.26 510.41H152.16M148.26 508.03H152.16M148.26 505.65H152.16M148.26 503.27H152.16M148.26 500.89H152.16M148.26 498.51H152.16M148.26 496.13H152.16M148.26 493.75H152.16M148.26 491.37H152.16M148.26 488.99H152.16M148.26 486.61H152.16" stroke="#4e3000" stroke-width="0.7" fill="none"/>
<path d="M150.21 479.76V484.76M148.56 479.76H151.86" stroke="#4a4a4a" stroke-width="0.6" fill="none"/>
<path d="M150.21 484.76V489.71M148.56 489.71H151.86" stroke="#222" stroke-width="0.6" fill="none" opacity="0.55"/>
<rect x="152.71" y="471.14" width="4" height="47.71" fill="#ff0000" stroke="#b00000" stroke-width="0.5"/>
<path d="M154.71 456.36V471.14M153.06 456.36H156.36" stroke="#4a4a4a" stroke-width="0.6" fill="none"/>
<path d="M154.71 471.14V485.93M153.06 485.93H156.36" stroke="#222" stroke-width="0.6" fill="none" opacity="0.55"/>
<rect x="157.22" y="474.52" width="4" height="44.33" fill="url(#pp)" stroke="#d84040" stroke-width="0.5"/>
<path d="M159.22 456.36V474.52M157.57 456.36H160.87" stroke="#4a4a4a" stroke-width="0.6" fill="none"/>
<path d="M159.22 474.52V492.33M157.57 492.33H160.87" stroke="#4a4a4a" stroke-width="0.6" fill="none"/>
<rect x="161.72" y="477.02" width="4" height="41.83" fill="#0000ff" stroke="#0000b0" stroke-width="0.5"/>
<path d="M163.72 450.19V477.02M162.07 450.19H165.37" stroke="#4a4a4a" stroke-width="0.6" fill="none"/>
<path d="M163.72 477.02V504.26M162.07 504.26H165.37" stroke="#222" stroke-width="0.6" fill="none" opacity="0.55"/>
<rect x="166.22" y="495.24" width="4" height="23.61" fill="url(#pb)" stroke="#4040d8" stroke-width="0.5"/>
<path d="M168.22 483.19V495.24M166.57 483.19H169.87" stroke="#4a4a4a" stroke-width="0.6" fill="none"/>
<path d="M168.22 495.24V506.53M166.57 506.53H169.87" stroke="#4a4a4a" stroke-width="0.6" fill="none"/>
<rect x="179.73" y="416.09" width="4" height="102.76" fill="#000000" stroke="#000000" stroke-width="0.5"/>
<path d="M181.73 399.79V416.09M180.08 399.79H183.38" stroke="#4a4a4a" stroke-width="0.6" fill="none"/>
<rect x="184.23" y="504.72" width="4" height="14.13" fill="url(#pg)" stroke="#4a4a4a" stroke-width="0.5"/>
<path d="M186.23 501.35V504.72M184.58 501.35H187.88" stroke="#4a4a4a" stroke-width="0.6" fill="none"/>
<path d="M186.23 504.72V508.04M184.58 508.04H187.88" stroke="#4a4a4a" stroke-width="0.6" fill="none"/>
<rect x="188.73" y="480.86" width="4" height="37.99" fill="#fbb117" stroke="#7a5200" stroke-width="0.5"/>
<path d="M190.73 470.68V480.86M189.08 470.68H192.38" stroke="#4a4a4a" stroke-width="0.6" fill="none"/>
<path d="M190.73 480.86V491.16M189.08 491.16H192.38" stroke="#222" stroke-width="0.6" fill="none" opacity="0.55"/>
<rect x="193.24" y="480.86" width="4" height="37.99" fill="#fbb117" stroke="#7a5200" stroke-width="0.5"/>
<path d="M193.29 517.55H197.19M193.29 515.17H197.19M193.29 512.79H197.19M193.29 510.41H197.19M193.29 508.03H197.19M193.29 505.65H197.19M193.29 503.27H197.19M193.29 500.89H197.19M193.29 498.51H197.19M193.29 496.13H197.19M193.29 493.75H197.19M193.29 491.37H197.19M193.29 488.99H197.19M193.29 486.61H197.19M193.29 484.23H197.19M193.29 481.85H197.19" stroke="#4e3000" stroke-width="0.7" fill="none"/>
<path d="M195.24 478.19V480.86M193.59 478.19H196.89" stroke="#4a4a4a" stroke-width="0.6" fill="none"/>
<path d="M195.24 480.86V483.6M193.59 483.6H196.89" stroke="#222" stroke-width="0.6" fill="none" opacity="0.55"/>
<rect x="197.74" y="458.16" width="4" height="60.69" fill="#ff0000" stroke="#b00000" stroke-width="0.5"/>
<path d="M199.74 439.95V458.16M198.09 439.95H201.39" stroke="#4a4a4a" stroke-width="0.6" fill="none"/>
<path d="M199.74 458.16V475.45M198.09 475.45H201.39" stroke="#222" stroke-width="0.6" fill="none" opacity="0.55"/>
<rect x="202.24" y="463.4" width="4" height="55.45" fill="url(#pp)" stroke="#d84040" stroke-width="0.5"/>
<path d="M204.24 430.93V463.4M202.59 430.93H205.89" stroke="#4a4a4a" stroke-width="0.6" fill="none"/>
<path d="M204.24 463.4V486.57M202.59 486.57H205.89" stroke="#4a4a4a" stroke-width="0.6" fill="none"/>
<rect x="206.74" y="467.3" width="4" height="51.55" fill="#0000ff" stroke="#0000b0" stroke-width="0.5"/>
<path d="M208.74 434.3V467.3M207.09 434.3H210.39" stroke="#4a4a4a" stroke-width="0.6" fill="none"/>
<path d="M208.74 467.3V500.19M207.09 500.19H210.39" stroke="#222" stroke-width="0.6" fill="none" opacity="0.55"/>
<rect x="211.25" y="489.3" width="4" height="29.55" fill="url(#pb)" stroke="#4040d8" stroke-width="0.5"/>
<path d="M213.25 484.3V489.3M211.6 484.3H214.9" stroke="#4a4a4a" stroke-width="0.6" fill="none"/>
<path d="M213.25 489.3V494.66M211.6 494.66H214.9" stroke="#4a4a4a" stroke-width="0.6" fill="none"/>
<path d="M39.9 373.35V518.85H220" fill="none" stroke="#727272" stroke-width="0.85"/>
<text x="35.1" y="521.44" font-size="9.2" text-anchor="end" fill="#1a1a1a">0</text>
<text x="35.1" y="492.34" font-size="9.2" text-anchor="end" fill="#1a1a1a">50</text>
<text x="35.1" y="463.24" font-size="9.2" text-anchor="end" fill="#1a1a1a">100</text>
<text x="35.1" y="434.14" font-size="9.2" text-anchor="end" fill="#1a1a1a">150</text>
<text x="35.1" y="405.04" font-size="9.2" text-anchor="end" fill="#1a1a1a">200</text>
<text x="35.1" y="375.94" font-size="9.2" text-anchor="end" fill="#1a1a1a">250</text>
<path d="M36.9 518.85H39.9M36.9 489.75H39.9M36.9 460.65H39.9M36.9 431.55H39.9M36.9 402.45H39.9M36.9 373.35H39.9" stroke="#909090" stroke-width="0.8" fill="none"/>
<path d="M38.1 513.03H39.9M38.1 507.21H39.9M38.1 501.39H39.9M38.1 495.57H39.9M38.1 483.93H39.9M38.1 478.11H39.9M38.1 472.29H39.9M38.1 466.47H39.9M38.1 454.83H39.9M38.1 449.01H39.9M38.1 443.19H39.9M38.1 437.37H39.9M38.1 425.73H39.9M38.1 419.91H39.9M38.1 414.09H39.9M38.1 408.27H39.9M38.1 396.63H39.9M38.1 390.81H39.9M38.1 384.99H39.9M38.1 379.17H39.9" stroke="#909090" stroke-width="0.6" fill="none" opacity="0.9"/>
<text x="62.41" y="530.45" font-size="9.5" text-anchor="middle" fill="#1a1a1a">30</text>
<text x="107.44" y="530.45" font-size="9.5" text-anchor="middle" fill="#1a1a1a">40</text>
<text x="152.46" y="530.45" font-size="9.5" text-anchor="middle" fill="#1a1a1a">50</text>
<text x="197.49" y="530.45" font-size="9.5" text-anchor="middle" fill="#1a1a1a">60</text>
<path d="M62.41 518.85V521.85M107.44 518.85V521.85M152.46 518.85V521.85M197.49 518.85V521.85" stroke="#909090" stroke-width="0.8" fill="none"/>
<text x="130.5" y="546.2" font-size="9" font-weight="bold" text-anchor="middle" fill="#000">Temperature (ºC)</text>
<text transform="translate(11.3 446.4) rotate(-90)" font-size="9" font-weight="bold" text-anchor="middle" fill="#000">SRV (%)</text>
<text x="5.2" y="373.9" font-size="12.8" fill="#000">c</text>
<text x="46.4" y="383.8" font-size="7.32" fill="#000">Self-supported</text>
<rect x="46.9" y="387" width="16.3" height="7.4" fill="#000000" stroke="#000000" stroke-width="0.5"/>
<text x="65.7" y="393.02" font-size="7.32" fill="#000">FAA3-50</text>
<rect x="46.9" y="396.3" width="16.3" height="7.4" fill="#ff0000" stroke="#b00000" stroke-width="0.5"/>
<text x="65.7" y="402.32" font-size="7.32" fill="#000">PI-20</text>
<rect x="46.9" y="405.4" width="16.3" height="7.4" fill="#0000ff" stroke="#0000b0" stroke-width="0.5"/>
<text x="65.7" y="411.42" font-size="7.32" fill="#000">PBI/<tspan font-style="italic">m</tspan><tspan dx="0.3">TPN</tspan></text>
<rect x="46.9" y="415.9" width="16.3" height="7.4" fill="#fbb117" stroke="#7a5200" stroke-width="0.5"/>
<text x="65.7" y="421.92" font-size="7.32" fill="#000">Nafion 212 (Na<tspan dy="-3" font-size="4.2">+</tspan><tspan dy="3">)</tspan></text>
<rect x="46.9" y="426.3" width="16.3" height="7.4" fill="#fbb117" stroke="#7a5200" stroke-width="0.5"/>
<path d="M46.9 427.62H63.2M46.9 430H63.2M46.9 432.38H63.2" stroke="#4e3000" stroke-width="0.7" fill="none"/>
<text x="65.7" y="432.32" font-size="7.32" fill="#000">Nafion 212 (H<tspan dy="-3" font-size="4.2">+</tspan><tspan dy="3">)</tspan></text>
<text x="104.5" y="383.8" font-size="7.32" fill="#000">Reinforced</text>
<rect x="106.6" y="387" width="16.3" height="7.4" fill="url(#pg)" stroke="#4a4a4a" stroke-width="0.5"/>
<text x="124.8" y="393.02" font-size="7.32" fill="#000">FAA3-PK-75</text>
<rect x="106.6" y="396.3" width="16.3" height="7.4" fill="url(#pp)" stroke="#d84040" stroke-width="0.5"/>
<text x="124.8" y="402.32" font-size="7.32" fill="#000">PI-15</text>
<rect x="106.6" y="405.4" width="16.3" height="7.4" fill="url(#pb)" stroke="#4040d8" stroke-width="0.5"/>
<text x="124.8" y="411.42" font-size="7.32" fill="#000">PBI-<tspan font-style="italic">m</tspan>TPN</text>
</g>
<g>
<rect x="263.16" y="75.26" width="4.65" height="78.29" fill="#000000" stroke="#000000" stroke-width="0.5"/>
<path d="M265.48 66.24V75.26M263.83 66.24H267.13" stroke="#6e6e6e" stroke-width="0.75" fill="none"/>
<rect x="268.31" y="124" width="4.65" height="29.55" fill="url(#pg)" stroke="#4a4a4a" stroke-width="0.5"/>
<path d="M270.63 123.28V124M268.98 123.28H272.28" stroke="#6e6e6e" stroke-width="0.75" fill="none"/>
<path d="M270.63 124V124.72M268.98 124.72H272.28" stroke="#6e6e6e" stroke-width="0.75" fill="none"/>
<rect x="273.46" y="147.1" width="4.65" height="6.45" fill="#fbb117" stroke="#7a5200" stroke-width="0.5"/>
<path d="M275.79 143.13V147.1M274.14 143.13H277.44" stroke="#6e6e6e" stroke-width="0.75" fill="none"/>
<path d="M275.79 147.1V150.71M274.14 150.71H277.44" stroke="#222" stroke-width="0.75" fill="none" opacity="0.55"/>
<rect x="278.61" y="116.06" width="4.65" height="37.49" fill="#ff0000" stroke="#b00000" stroke-width="0.5"/>
<path d="M280.94 114.61V116.06M279.29 114.61H282.59" stroke="#6e6e6e" stroke-width="0.75" fill="none"/>
<path d="M280.94 116.06V117.5M279.29 117.5H282.59" stroke="#222" stroke-width="0.75" fill="none" opacity="0.55"/>
<rect x="283.76" y="116.6" width="4.65" height="36.95" fill="url(#pp)" stroke="#d84040" stroke-width="0.5"/>
<path d="M286.09 114.61V116.6M284.44 114.61H287.74" stroke="#6e6e6e" stroke-width="0.75" fill="none"/>
<path d="M286.09 116.6V118.58M284.44 118.58H287.74" stroke="#6e6e6e" stroke-width="0.75" fill="none"/>
<rect x="288.91" y="111.36" width="4.65" height="42.19" fill="#0000ff" stroke="#0000b0" stroke-width="0.5"/>
<path d="M291.24 109.2V111.36M289.59 109.2H292.89" stroke="#6e6e6e" stroke-width="0.75" fill="none"/>
<path d="M291.24 111.36V113.53M289.59 113.53H292.89" stroke="#222" stroke-width="0.75" fill="none" opacity="0.55"/>
<rect x="294.07" y="118.4" width="4.65" height="35.15" fill="url(#pb)" stroke="#4040d8" stroke-width="0.5"/>
<path d="M296.39 117.86V118.4M294.74 117.86H298.04" stroke="#6e6e6e" stroke-width="0.75" fill="none"/>
<path d="M296.39 118.4V118.94M294.74 118.94H298.04" stroke="#6e6e6e" stroke-width="0.75" fill="none"/>
<rect x="308.23" y="70.21" width="4.65" height="83.34" fill="#000000" stroke="#000000" stroke-width="0.5"/>
<path d="M310.56 60.1V70.21M308.91 60.1H312.21" stroke="#6e6e6e" stroke-width="0.75" fill="none"/>
<rect x="313.38" y="122.55" width="4.65" height="31" fill="url(#pg)" stroke="#4a4a4a" stroke-width="0.5"/>
<path d="M315.71 121.83V122.55M314.06 121.83H317.36" stroke="#6e6e6e" stroke-width="0.75" fill="none"/>
<path d="M315.71 122.55V123.28M314.06 123.28H317.36" stroke="#6e6e6e" stroke-width="0.75" fill="none"/>
<rect x="318.54" y="144.39" width="4.65" height="9.16" fill="#fbb117" stroke="#7a5200" stroke-width="0.5"/>
<path d="M320.86 139.52V144.39M319.21 139.52H322.51" stroke="#6e6e6e" stroke-width="0.75" fill="none"/>
<path d="M320.86 144.39V149.27M319.21 149.27H322.51" stroke="#222" stroke-width="0.75" fill="none" opacity="0.55"/>
<rect x="323.69" y="99.45" width="4.65" height="54.1" fill="#ff0000" stroke="#b00000" stroke-width="0.5"/>
<path d="M326.01 91.87V99.45M324.36 91.87H327.66" stroke="#6e6e6e" stroke-width="0.75" fill="none"/>
<path d="M326.01 99.45V107.39M324.36 107.39H327.66" stroke="#222" stroke-width="0.75" fill="none" opacity="0.55"/>
<rect x="328.84" y="111.36" width="4.65" height="42.19" fill="url(#pp)" stroke="#d84040" stroke-width="0.5"/>
<path d="M331.16 109.2V111.36M329.51 109.2H332.81" stroke="#6e6e6e" stroke-width="0.75" fill="none"/>
<path d="M331.16 111.36V113.53M329.51 113.53H332.81" stroke="#6e6e6e" stroke-width="0.75" fill="none"/>
<rect x="333.99" y="109.2" width="4.65" height="44.35" fill="#0000ff" stroke="#0000b0" stroke-width="0.5"/>
<path d="M336.32 108.47V109.2M334.67 108.47H337.97" stroke="#6e6e6e" stroke-width="0.75" fill="none"/>
<path d="M336.32 109.2V109.92M334.67 109.92H337.97" stroke="#222" stroke-width="0.75" fill="none" opacity="0.55"/>
<rect x="339.14" y="115.88" width="4.65" height="37.67" fill="url(#pb)" stroke="#4040d8" stroke-width="0.5"/>
<path d="M341.47 115.33V115.88M339.82 115.33H343.12" stroke="#6e6e6e" stroke-width="0.75" fill="none"/>
<path d="M341.47 115.88V116.42M339.82 116.42H343.12" stroke="#6e6e6e" stroke-width="0.75" fill="none"/>
<rect x="353.31" y="66.24" width="4.65" height="87.31" fill="#000000" stroke="#000000" stroke-width="0.5"/>
<path d="M355.63 56.49V66.24M353.98 56.49H357.28" stroke="#6e6e6e" stroke-width="0.75" fill="none"/>
<rect x="358.46" y="121.29" width="4.65" height="32.26" fill="url(#pg)" stroke="#4a4a4a" stroke-width="0.5"/>
<path d="M360.78 120.39V121.29M359.13 120.39H362.43" stroke="#6e6e6e" stroke-width="0.75" fill="none"/>
<path d="M360.78 121.29V122.19M359.13 122.19H362.43" stroke="#6e6e6e" stroke-width="0.75" fill="none"/>
<rect x="363.61" y="141.69" width="4.65" height="11.86" fill="#fbb117" stroke="#7a5200" stroke-width="0.5"/>
<path d="M365.94 136.99V141.69M364.29 136.99H367.59" stroke="#6e6e6e" stroke-width="0.75" fill="none"/>
<path d="M365.94 141.69V146.38M364.29 146.38H367.59" stroke="#222" stroke-width="0.75" fill="none" opacity="0.55"/>
<rect x="368.76" y="91.15" width="4.65" height="62.4" fill="#ff0000" stroke="#b00000" stroke-width="0.5"/>
<path d="M371.09 84.29V91.15M369.44 84.29H372.74" stroke="#6e6e6e" stroke-width="0.75" fill="none"/>
<path d="M371.09 91.15V97.64M369.44 97.64H372.74" stroke="#222" stroke-width="0.75" fill="none" opacity="0.55"/>
<rect x="373.91" y="105.23" width="4.65" height="48.32" fill="url(#pp)" stroke="#d84040" stroke-width="0.5"/>
<path d="M376.24 103.78V105.23M374.59 103.78H377.89" stroke="#6e6e6e" stroke-width="0.75" fill="none"/>
<path d="M376.24 105.23V106.67M374.59 106.67H377.89" stroke="#6e6e6e" stroke-width="0.75" fill="none"/>
<rect x="379.06" y="101.44" width="4.65" height="52.11" fill="#0000ff" stroke="#0000b0" stroke-width="0.5"/>
<path d="M381.39 100.53V101.44M379.74 100.53H383.04" stroke="#6e6e6e" stroke-width="0.75" fill="none"/>
<path d="M381.39 101.44V102.34M379.74 102.34H383.04" stroke="#222" stroke-width="0.75" fill="none" opacity="0.55"/>
<rect x="384.22" y="114.25" width="4.65" height="39.3" fill="url(#pb)" stroke="#4040d8" stroke-width="0.5"/>
<path d="M386.54 113.71V114.25M384.89 113.71H388.19" stroke="#6e6e6e" stroke-width="0.75" fill="none"/>
<path d="M386.54 114.25V114.79M384.89 114.79H388.19" stroke="#6e6e6e" stroke-width="0.75" fill="none"/>
<rect x="398.38" y="55.05" width="4.65" height="98.5" fill="#000000" stroke="#000000" stroke-width="0.5"/>
<path d="M400.71 44.94V55.05M399.06 44.94H402.36" stroke="#6e6e6e" stroke-width="0.75" fill="none"/>
<rect x="403.53" y="120.39" width="4.65" height="33.16" fill="url(#pg)" stroke="#4a4a4a" stroke-width="0.5"/>
<path d="M405.86 119.67V120.39M404.21 119.67H407.51" stroke="#6e6e6e" stroke-width="0.75" fill="none"/>
<path d="M405.86 120.39V121.11M404.21 121.11H407.51" stroke="#6e6e6e" stroke-width="0.75" fill="none"/>
<rect x="408.69" y="140.24" width="4.65" height="13.31" fill="#fbb117" stroke="#7a5200" stroke-width="0.5"/>
<path d="M411.01 134.83V140.24M409.36 134.83H412.66" stroke="#6e6e6e" stroke-width="0.75" fill="none"/>
<path d="M411.01 140.24V145.3M409.36 145.3H412.66" stroke="#222" stroke-width="0.75" fill="none" opacity="0.55"/>
<rect x="413.84" y="84.11" width="4.65" height="69.44" fill="#ff0000" stroke="#b00000" stroke-width="0.5"/>
<path d="M416.16 82.48V84.11M414.51 82.48H417.81" stroke="#6e6e6e" stroke-width="0.75" fill="none"/>
<path d="M416.16 84.11V85.73M414.51 85.73H417.81" stroke="#222" stroke-width="0.75" fill="none" opacity="0.55"/>
<rect x="418.99" y="101.98" width="4.65" height="51.57" fill="url(#pp)" stroke="#d84040" stroke-width="0.5"/>
<path d="M421.31 100.53V101.98M419.66 100.53H422.96" stroke="#6e6e6e" stroke-width="0.75" fill="none"/>
<path d="M421.31 101.98V103.42M419.66 103.42H422.96" stroke="#6e6e6e" stroke-width="0.75" fill="none"/>
<rect x="424.14" y="96.92" width="4.65" height="56.63" fill="#0000ff" stroke="#0000b0" stroke-width="0.5"/>
<path d="M426.47 96.2V96.92M424.82 96.2H428.12" stroke="#6e6e6e" stroke-width="0.75" fill="none"/>
<path d="M426.47 96.92V97.64M424.82 97.64H428.12" stroke="#222" stroke-width="0.75" fill="none" opacity="0.55"/>
<rect x="429.29" y="112.81" width="4.65" height="40.74" fill="url(#pb)" stroke="#4040d8" stroke-width="0.5"/>
<path d="M431.62 112.27V112.81M429.97 112.27H433.27" stroke="#6e6e6e" stroke-width="0.75" fill="none"/>
<path d="M431.62 112.81V113.35M429.97 113.35H433.27" stroke="#6e6e6e" stroke-width="0.75" fill="none"/>
<rect x="258.4" y="9.15" width="180.3" height="144.4" fill="none" stroke="#989898" stroke-width="0.95"/>
<text x="253.1" y="155.97" font-size="9" text-anchor="end" fill="#1a1a1a">0</text>
<text x="253.1" y="137.92" font-size="9" text-anchor="end" fill="#1a1a1a">5</text>
<text x="253.1" y="119.87" font-size="9" text-anchor="end" fill="#1a1a1a">10</text>
<text x="253.1" y="101.82" font-size="9" text-anchor="end" fill="#1a1a1a">15</text>
<text x="253.1" y="83.77" font-size="9" text-anchor="end" fill="#1a1a1a">20</text>
<text x="253.1" y="65.72" font-size="9" text-anchor="end" fill="#1a1a1a">25</text>
<text x="253.1" y="47.67" font-size="9" text-anchor="end" fill="#1a1a1a">30</text>
<text x="253.1" y="29.62" font-size="9" text-anchor="end" fill="#1a1a1a">35</text>
<text x="253.1" y="11.57" font-size="9" text-anchor="end" fill="#1a1a1a">40</text>
<path d="M255.4 153.55H258.4M255.4 135.5H258.4M255.4 117.45H258.4M255.4 99.4H258.4M255.4 81.35H258.4M255.4 63.3H258.4M255.4 45.25H258.4M255.4 27.2H258.4M255.4 9.15H258.4" stroke="#909090" stroke-width="0.8" fill="none"/>
<text x="280.94" y="164.95" font-size="9.2" text-anchor="middle" fill="#1a1a1a">30</text>
<text x="326.01" y="164.95" font-size="9.2" text-anchor="middle" fill="#1a1a1a">40</text>
<text x="371.09" y="164.95" font-size="9.2" text-anchor="middle" fill="#1a1a1a">50</text>
<text x="416.16" y="164.95" font-size="9.2" text-anchor="middle" fill="#1a1a1a">60</text>
<path d="M280.94 153.55V156.55M326.01 153.55V156.55M371.09 153.55V156.55M416.16 153.55V156.55" stroke="#909090" stroke-width="0.8" fill="none"/>
<text x="348.5" y="180.6" font-size="9" font-weight="bold" text-anchor="middle" fill="#000">Temperature (ºC)</text>
<text transform="translate(234.5 81.1) rotate(-90)" font-size="9" font-weight="bold" text-anchor="middle" fill="#000">SRL (%)</text>
<text x="226.9" y="16.5" font-size="13.3" fill="#000">d</text>
<text x="264" y="18" font-size="7.35" fill="#000">Self-supported</text>
<rect x="265.3" y="21" width="13.9" height="7.2" fill="#000000" stroke="#000000" stroke-width="0.5"/>
<text x="282.7" y="26.93" font-size="7.35" fill="#000">FAA3-50</text>
<rect x="265.3" y="30.2" width="13.9" height="7.2" fill="#ff0000" stroke="#b00000" stroke-width="0.5"/>
<text x="282.7" y="36.13" font-size="7.35" fill="#000">PI-20</text>
<rect x="265.3" y="39.4" width="13.9" height="7.2" fill="#0000ff" stroke="#0000b0" stroke-width="0.5"/>
<text x="282.7" y="45.33" font-size="7.35" fill="#000"><tspan font-style="italic">m</tspan>TPN</text>
<rect x="265.3" y="48.7" width="13.9" height="7.2" fill="#fbb117" stroke="#7a5200" stroke-width="0.5"/>
<text x="282.7" y="54.63" font-size="7.35" fill="#000">Nafion 212</text>
<text x="320.5" y="18" font-size="7.35" fill="#000">Reinforced</text>
<rect x="322.4" y="21" width="13.9" height="7.2" fill="url(#pg)" stroke="#4a4a4a" stroke-width="0.5"/>
<text x="339.5" y="26.93" font-size="7.35" fill="#000">FAA3-PK-75</text>
<rect x="322.4" y="30.2" width="13.9" height="7.2" fill="url(#pp)" stroke="#d84040" stroke-width="0.5"/>
<text x="339.5" y="36.13" font-size="7.35" fill="#000">PI-15</text>
<rect x="322.4" y="39.4" width="13.9" height="7.2" fill="url(#pb)" stroke="#4040d8" stroke-width="0.5"/>
<text x="339.5" y="45.33" font-size="7.35" fill="#000">PBI/<tspan font-style="italic">m</tspan><tspan dx="0.3">TPN</tspan></text>
</g>
<g>
<rect x="261.96" y="321.76" width="4.66" height="12.74" fill="#000000" stroke="#000000" stroke-width="0.5"/>
<path d="M264.29 315.77V321.76M262.64 315.77H265.94" stroke="#6e6e6e" stroke-width="0.75" fill="none"/>
<rect x="267.12" y="305.07" width="4.66" height="29.43" fill="url(#pg)" stroke="#4a4a4a" stroke-width="0.5"/>
<path d="M269.45 284.95V305.07M267.8 284.95H271.1" stroke="#6e6e6e" stroke-width="0.75" fill="none"/>
<path d="M269.45 305.07V325.18M267.8 325.18H271.1" stroke="#6e6e6e" stroke-width="0.75" fill="none"/>
<rect x="272.28" y="323.47" width="4.66" height="11.03" fill="#fbb117" stroke="#7a5200" stroke-width="0.5"/>
<path d="M274.61 313.2V323.47M272.96 313.2H276.26" stroke="#6e6e6e" stroke-width="0.75" fill="none"/>
<path d="M274.61 323.47V334.17M272.96 334.17H276.26" stroke="#222" stroke-width="0.75" fill="none" opacity="0.55"/>
<rect x="277.43" y="314.06" width="4.66" height="20.44" fill="#ff0000" stroke="#b00000" stroke-width="0.5"/>
<path d="M279.76 304.21V314.06M278.11 304.21H281.41" stroke="#6e6e6e" stroke-width="0.75" fill="none"/>
<path d="M279.76 314.06V322.4M278.11 322.4H281.41" stroke="#222" stroke-width="0.75" fill="none" opacity="0.55"/>
<rect x="282.59" y="313.2" width="4.66" height="21.3" fill="url(#pp)" stroke="#d84040" stroke-width="0.5"/>
<path d="M284.92 293.94V313.2M283.27 293.94H286.57" stroke="#6e6e6e" stroke-width="0.75" fill="none"/>
<path d="M284.92 313.2V331.6M283.27 331.6H286.57" stroke="#6e6e6e" stroke-width="0.75" fill="none"/>
<rect x="287.75" y="314.91" width="4.66" height="19.59" fill="#0000ff" stroke="#0000b0" stroke-width="0.5"/>
<path d="M290.08 305.5V314.91M288.43 305.5H291.73" stroke="#6e6e6e" stroke-width="0.75" fill="none"/>
<path d="M290.08 314.91V323.47M288.43 323.47H291.73" stroke="#222" stroke-width="0.75" fill="none" opacity="0.55"/>
<rect x="292.91" y="320.05" width="4.66" height="14.45" fill="url(#pb)" stroke="#4040d8" stroke-width="0.5"/>
<path d="M295.23 314.06V320.05M293.58 314.06H296.88" stroke="#6e6e6e" stroke-width="0.75" fill="none"/>
<path d="M295.23 320.05V326.9M293.58 326.9H296.88" stroke="#6e6e6e" stroke-width="0.75" fill="none"/>
<rect x="307.09" y="304.21" width="4.66" height="30.29" fill="#000000" stroke="#000000" stroke-width="0.5"/>
<path d="M309.42 296.51V304.21M307.77 296.51H311.07" stroke="#6e6e6e" stroke-width="0.75" fill="none"/>
<rect x="312.24" y="286.66" width="4.66" height="47.84" fill="url(#pg)" stroke="#4a4a4a" stroke-width="0.5"/>
<path d="M314.57 284.1V286.66M312.92 284.1H316.22" stroke="#6e6e6e" stroke-width="0.75" fill="none"/>
<path d="M314.57 286.66V289.23M312.92 289.23H316.22" stroke="#6e6e6e" stroke-width="0.75" fill="none"/>
<rect x="317.4" y="320.48" width="4.66" height="14.02" fill="#fbb117" stroke="#7a5200" stroke-width="0.5"/>
<path d="M319.73 315.77V320.48M318.08 315.77H321.38" stroke="#6e6e6e" stroke-width="0.75" fill="none"/>
<path d="M319.73 320.48V325.61M318.08 325.61H321.38" stroke="#222" stroke-width="0.75" fill="none" opacity="0.55"/>
<rect x="322.56" y="308.49" width="4.66" height="26.01" fill="#ff0000" stroke="#b00000" stroke-width="0.5"/>
<path d="M324.89 298.65V308.49M323.24 298.65H326.54" stroke="#6e6e6e" stroke-width="0.75" fill="none"/>
<path d="M324.89 308.49V317.91M323.24 317.91H326.54" stroke="#222" stroke-width="0.75" fill="none" opacity="0.55"/>
<rect x="327.72" y="280.24" width="4.66" height="54.26" fill="url(#pp)" stroke="#d84040" stroke-width="0.5"/>
<path d="M330.04 260.13V280.24M328.39 260.13H331.69" stroke="#6e6e6e" stroke-width="0.75" fill="none"/>
<path d="M330.04 280.24V300.79M328.39 300.79H331.69" stroke="#6e6e6e" stroke-width="0.75" fill="none"/>
<rect x="332.87" y="297.36" width="4.66" height="37.14" fill="#0000ff" stroke="#0000b0" stroke-width="0.5"/>
<path d="M335.2 286.24V297.36M333.55 286.24H336.85" stroke="#6e6e6e" stroke-width="0.75" fill="none"/>
<path d="M335.2 297.36V307.64M333.55 307.64H336.85" stroke="#222" stroke-width="0.75" fill="none" opacity="0.55"/>
<rect x="338.03" y="316.2" width="4.66" height="18.3" fill="url(#pb)" stroke="#4040d8" stroke-width="0.5"/>
<path d="M340.36 310.63V316.2M338.71 310.63H342.01" stroke="#6e6e6e" stroke-width="0.75" fill="none"/>
<path d="M340.36 316.2V322.4M338.71 322.4H342.01" stroke="#6e6e6e" stroke-width="0.75" fill="none"/>
<rect x="352.21" y="287.52" width="4.66" height="46.98" fill="#000000" stroke="#000000" stroke-width="0.5"/>
<path d="M354.54 272.11V287.52M352.89 272.11H356.19" stroke="#6e6e6e" stroke-width="0.75" fill="none"/>
<rect x="357.37" y="270.4" width="4.66" height="64.1" fill="url(#pg)" stroke="#4a4a4a" stroke-width="0.5"/>
<path d="M359.7 260.56V270.4M358.05 260.56H361.35" stroke="#6e6e6e" stroke-width="0.75" fill="none"/>
<path d="M359.7 270.4V280.24M358.05 280.24H361.35" stroke="#6e6e6e" stroke-width="0.75" fill="none"/>
<rect x="362.53" y="309.35" width="4.66" height="25.15" fill="#fbb117" stroke="#7a5200" stroke-width="0.5"/>
<rect x="367.68" y="293.08" width="4.66" height="41.42" fill="#ff0000" stroke="#b00000" stroke-width="0.5"/>
<path d="M370.01 282.38V293.08M368.36 282.38H371.66" stroke="#6e6e6e" stroke-width="0.75" fill="none"/>
<path d="M370.01 293.08V303.36M368.36 303.36H371.66" stroke="#222" stroke-width="0.75" fill="none" opacity="0.55"/>
<rect x="372.84" y="248.57" width="4.66" height="85.93" fill="url(#pp)" stroke="#d84040" stroke-width="0.5"/>
<path d="M375.17 226.32V248.57M373.52 226.32H376.82" stroke="#6e6e6e" stroke-width="0.75" fill="none"/>
<path d="M375.17 248.57V270.83M373.52 270.83H376.82" stroke="#6e6e6e" stroke-width="0.75" fill="none"/>
<rect x="378" y="286.66" width="4.66" height="47.84" fill="#0000ff" stroke="#0000b0" stroke-width="0.5"/>
<path d="M380.33 284.95V286.66M378.68 284.95H381.98" stroke="#6e6e6e" stroke-width="0.75" fill="none"/>
<path d="M380.33 286.66V288.38M378.68 288.38H381.98" stroke="#222" stroke-width="0.75" fill="none" opacity="0.55"/>
<rect x="383.16" y="316.62" width="4.66" height="17.88" fill="url(#pb)" stroke="#4040d8" stroke-width="0.5"/>
<path d="M385.48 309.78V316.62M383.83 309.78H387.13" stroke="#6e6e6e" stroke-width="0.75" fill="none"/>
<path d="M385.48 316.62V322.19M383.83 322.19H387.13" stroke="#6e6e6e" stroke-width="0.75" fill="none"/>
<rect x="397.34" y="274.25" width="4.66" height="60.25" fill="#000000" stroke="#000000" stroke-width="0.5"/>
<path d="M399.67 254.56V274.25M398.02 254.56H401.32" stroke="#6e6e6e" stroke-width="0.75" fill="none"/>
<rect x="402.49" y="256.28" width="4.66" height="78.22" fill="url(#pg)" stroke="#4a4a4a" stroke-width="0.5"/>
<path d="M404.82 251.14V256.28M403.17 251.14H406.47" stroke="#6e6e6e" stroke-width="0.75" fill="none"/>
<path d="M404.82 256.28V261.41M403.17 261.41H406.47" stroke="#6e6e6e" stroke-width="0.75" fill="none"/>
<rect x="407.65" y="302.07" width="4.66" height="32.43" fill="#fbb117" stroke="#7a5200" stroke-width="0.5"/>
<path d="M409.98 296.51V302.07M408.33 296.51H411.63" stroke="#6e6e6e" stroke-width="0.75" fill="none"/>
<path d="M409.98 302.07V307.64M408.33 307.64H411.63" stroke="#222" stroke-width="0.75" fill="none" opacity="0.55"/>
<rect x="412.81" y="277.68" width="4.66" height="56.82" fill="#ff0000" stroke="#b00000" stroke-width="0.5"/>
<path d="M415.14 266.98V277.68M413.49 266.98H416.79" stroke="#6e6e6e" stroke-width="0.75" fill="none"/>
<path d="M415.14 277.68V288.8M413.49 288.8H416.79" stroke="#222" stroke-width="0.75" fill="none" opacity="0.55"/>
<rect x="417.97" y="216.04" width="4.66" height="118.46" fill="url(#pp)" stroke="#d84040" stroke-width="0.5"/>
<path d="M420.29 193.36V216.04M418.64 193.36H421.94" stroke="#6e6e6e" stroke-width="0.75" fill="none"/>
<path d="M420.29 216.04V239.58M418.64 239.58H421.94" stroke="#6e6e6e" stroke-width="0.75" fill="none"/>
<rect x="423.12" y="265.69" width="4.66" height="68.81" fill="#0000ff" stroke="#0000b0" stroke-width="0.5"/>
<path d="M425.45 248.14V265.69M423.8 248.14H427.1" stroke="#6e6e6e" stroke-width="0.75" fill="none"/>
<path d="M425.45 265.69V282.38M423.8 282.38H427.1" stroke="#222" stroke-width="0.75" fill="none" opacity="0.55"/>
<rect x="428.28" y="316.62" width="4.66" height="17.88" fill="url(#pb)" stroke="#4040d8" stroke-width="0.5"/>
<path d="M430.61 309.78V316.62M428.96 309.78H432.26" stroke="#6e6e6e" stroke-width="0.75" fill="none"/>
<path d="M430.61 316.62V322.19M428.96 322.19H432.26" stroke="#6e6e6e" stroke-width="0.75" fill="none"/>
<rect x="257.2" y="189.95" width="180.5" height="144.55" fill="none" stroke="#989898" stroke-width="0.95"/>
<text x="252.4" y="337.45" font-size="8.8" text-anchor="end" fill="#1a1a1a">0</text>
<text x="252.4" y="316.13" font-size="8.8" text-anchor="end" fill="#1a1a1a">5</text>
<text x="252.4" y="294.81" font-size="8.8" text-anchor="end" fill="#1a1a1a">10</text>
<text x="252.4" y="273.49" font-size="8.8" text-anchor="end" fill="#1a1a1a">15</text>
<text x="252.4" y="252.17" font-size="8.8" text-anchor="end" fill="#1a1a1a">20</text>
<text x="252.4" y="230.85" font-size="8.8" text-anchor="end" fill="#1a1a1a">25</text>
<text x="252.4" y="209.53" font-size="8.8" text-anchor="end" fill="#1a1a1a">30</text>
<path d="M254.2 334.5H257.2M254.2 313.18H257.2M254.2 291.86H257.2M254.2 270.54H257.2M254.2 249.22H257.2M254.2 227.9H257.2M254.2 206.58H257.2" stroke="#909090" stroke-width="0.8" fill="none"/>
<path d="M255.4 323.84H257.2M255.4 302.52H257.2M255.4 281.2H257.2M255.4 259.88H257.2M255.4 238.56H257.2M255.4 217.24H257.2M255.4 195.92H257.2" stroke="#909090" stroke-width="0.6" fill="none" opacity="0.9"/>
<text x="279.76" y="345.6" font-size="9.2" text-anchor="middle" fill="#1a1a1a">30</text>
<text x="324.89" y="345.6" font-size="9.2" text-anchor="middle" fill="#1a1a1a">40</text>
<text x="370.01" y="345.6" font-size="9.2" text-anchor="middle" fill="#1a1a1a">50</text>
<text x="415.14" y="345.6" font-size="9.2" text-anchor="middle" fill="#1a1a1a">60</text>
<path d="M279.76 334.5V337.5M324.89 334.5V337.5M370.01 334.5V337.5M415.14 334.5V337.5" stroke="#909090" stroke-width="0.8" fill="none"/>
<text x="347.4" y="362.2" font-size="9" font-weight="bold" text-anchor="middle" fill="#000">Temperature (ºC)</text>
<text transform="translate(233.3 261.8) rotate(-90)" font-size="9" font-weight="bold" text-anchor="middle" fill="#000">SRT (%)</text>
<text x="234.8" y="197" font-size="13.5" fill="#000">e</text>
<text x="262" y="197.7" font-size="7.35" fill="#000">Self-supported</text>
<rect x="263.6" y="201.3" width="13.5" height="7.2" fill="#000000" stroke="#000000" stroke-width="0.5"/>
<text x="281" y="207.23" font-size="7.35" fill="#000">FAA3-50</text>
<rect x="263.6" y="210.6" width="13.5" height="7.2" fill="#ff0000" stroke="#b00000" stroke-width="0.5"/>
<text x="281" y="216.53" font-size="7.35" fill="#000">PI-20</text>
<rect x="263.6" y="219.8" width="13.5" height="7.2" fill="#0000ff" stroke="#0000b0" stroke-width="0.5"/>
<text x="281" y="225.73" font-size="7.35" fill="#000"><tspan font-style="italic">m</tspan>TPN</text>
<rect x="263.6" y="229.5" width="13.5" height="7.2" fill="#fbb117" stroke="#7a5200" stroke-width="0.5"/>
<text x="281" y="235.43" font-size="7.35" fill="#000">Nafion 212</text>
<text x="319.8" y="197.7" font-size="7.35" fill="#000">Reinforced</text>
<rect x="321.2" y="201.3" width="13.5" height="7.2" fill="url(#pg)" stroke="#4a4a4a" stroke-width="0.5"/>
<text x="338.5" y="207.23" font-size="7.35" fill="#000">FAA3-PK-75</text>
<rect x="321.2" y="210.6" width="13.5" height="7.2" fill="url(#pp)" stroke="#d84040" stroke-width="0.5"/>
<text x="338.5" y="216.53" font-size="7.35" fill="#000">PI-15</text>
<rect x="321.2" y="219.8" width="13.5" height="7.2" fill="url(#pb)" stroke="#4040d8" stroke-width="0.5"/>
<text x="338.5" y="225.73" font-size="7.35" fill="#000">PBI/<tspan font-style="italic">m</tspan><tspan dx="0.3">TPN</tspan></text>
</g>
<g>
<rect x="262.87" y="467.49" width="4.66" height="51.31" fill="#000000" stroke="#000000" stroke-width="0.5"/>
<path d="M265.2 430.01V467.49M263.55 430.01H266.85" stroke="#6e6e6e" stroke-width="0.75" fill="none"/>
<rect x="268.03" y="493.96" width="4.66" height="24.84" fill="url(#pg)" stroke="#4a4a4a" stroke-width="0.5"/>
<path d="M270.36 476.57V493.96M268.71 476.57H272.01" stroke="#6e6e6e" stroke-width="0.75" fill="none"/>
<path d="M270.36 493.96V510.96M268.71 510.96H272.01" stroke="#6e6e6e" stroke-width="0.75" fill="none"/>
<rect x="273.19" y="512.12" width="4.66" height="6.68" fill="#fbb117" stroke="#7a5200" stroke-width="0.5"/>
<path d="M275.52 501.2V512.12M273.87 501.2H277.17" stroke="#6e6e6e" stroke-width="0.75" fill="none"/>
<rect x="278.36" y="491.73" width="4.66" height="27.06" fill="#ff0000" stroke="#b00000" stroke-width="0.5"/>
<path d="M280.69 477.05V491.73M279.04 477.05H282.34" stroke="#6e6e6e" stroke-width="0.75" fill="none"/>
<path d="M280.69 491.73V506.42M279.04 506.42H282.34" stroke="#222" stroke-width="0.75" fill="none" opacity="0.55"/>
<rect x="283.52" y="491.73" width="4.66" height="27.06" fill="url(#pp)" stroke="#d84040" stroke-width="0.5"/>
<path d="M285.85 466.14V491.73M284.2 466.14H287.5" stroke="#6e6e6e" stroke-width="0.75" fill="none"/>
<path d="M285.85 491.73V516.56M284.2 516.56H287.5" stroke="#6e6e6e" stroke-width="0.75" fill="none"/>
<rect x="288.68" y="489.03" width="4.66" height="29.77" fill="#0000ff" stroke="#0000b0" stroke-width="0.5"/>
<path d="M291.01 473.19V489.03M289.36 473.19H292.66" stroke="#6e6e6e" stroke-width="0.75" fill="none"/>
<path d="M291.01 489.03V504.2M289.36 504.2H292.66" stroke="#222" stroke-width="0.75" fill="none" opacity="0.55"/>
<rect x="293.84" y="495.12" width="4.66" height="23.68" fill="url(#pb)" stroke="#4040d8" stroke-width="0.5"/>
<path d="M296.18 483.81V495.12M294.53 483.81H297.83" stroke="#6e6e6e" stroke-width="0.75" fill="none"/>
<path d="M296.18 495.12V506.42M294.53 506.42H297.83" stroke="#6e6e6e" stroke-width="0.75" fill="none"/>
<rect x="308.04" y="458.31" width="4.66" height="60.49" fill="#000000" stroke="#000000" stroke-width="0.5"/>
<path d="M310.37 429.52V458.31M308.72 429.52H312.02" stroke="#6e6e6e" stroke-width="0.75" fill="none"/>
<rect x="313.21" y="488.35" width="4.66" height="30.45" fill="url(#pg)" stroke="#4a4a4a" stroke-width="0.5"/>
<path d="M315.54 486.13V488.35M313.89 486.13H317.19" stroke="#6e6e6e" stroke-width="0.75" fill="none"/>
<path d="M315.54 488.35V490.58M313.89 490.58H317.19" stroke="#6e6e6e" stroke-width="0.75" fill="none"/>
<rect x="318.37" y="510.28" width="4.66" height="8.52" fill="#fbb117" stroke="#7a5200" stroke-width="0.5"/>
<path d="M320.7 500.14V510.28M319.05 500.14H322.35" stroke="#6e6e6e" stroke-width="0.75" fill="none"/>
<rect x="323.53" y="479.76" width="4.66" height="39.04" fill="#ff0000" stroke="#b00000" stroke-width="0.5"/>
<path d="M325.86 453.96V479.76M324.21 453.96H327.51" stroke="#6e6e6e" stroke-width="0.75" fill="none"/>
<path d="M325.86 479.76V505.26M324.21 505.26H327.51" stroke="#222" stroke-width="0.75" fill="none" opacity="0.55"/>
<rect x="328.69" y="479.27" width="4.66" height="39.53" fill="url(#pp)" stroke="#d84040" stroke-width="0.5"/>
<path d="M331.03 461.21V479.27M329.38 461.21H332.68" stroke="#6e6e6e" stroke-width="0.75" fill="none"/>
<path d="M331.03 479.27V497.43M329.38 497.43H332.68" stroke="#6e6e6e" stroke-width="0.75" fill="none"/>
<rect x="333.86" y="482.65" width="4.66" height="36.15" fill="#0000ff" stroke="#0000b0" stroke-width="0.5"/>
<path d="M336.19 471.35V482.65M334.54 471.35H337.84" stroke="#6e6e6e" stroke-width="0.75" fill="none"/>
<path d="M336.19 482.65V493.96M334.54 493.96H337.84" stroke="#222" stroke-width="0.75" fill="none" opacity="0.55"/>
<rect x="339.02" y="492.41" width="4.66" height="26.39" fill="url(#pb)" stroke="#4040d8" stroke-width="0.5"/>
<path d="M341.35 482.17V492.41M339.7 482.17H343" stroke="#6e6e6e" stroke-width="0.75" fill="none"/>
<path d="M341.35 492.41V502.55M339.7 502.55H343" stroke="#6e6e6e" stroke-width="0.75" fill="none"/>
<rect x="353.22" y="449.62" width="4.66" height="69.18" fill="#000000" stroke="#000000" stroke-width="0.5"/>
<path d="M355.55 413.39V449.62M353.9 413.39H357.2" stroke="#6e6e6e" stroke-width="0.75" fill="none"/>
<rect x="358.38" y="483.52" width="4.66" height="35.28" fill="url(#pg)" stroke="#4a4a4a" stroke-width="0.5"/>
<path d="M360.71 475.12V483.52M359.06 475.12H362.36" stroke="#6e6e6e" stroke-width="0.75" fill="none"/>
<path d="M360.71 483.52V491.93M359.06 491.93H362.36" stroke="#6e6e6e" stroke-width="0.75" fill="none"/>
<rect x="363.54" y="506.13" width="4.66" height="12.67" fill="#fbb117" stroke="#7a5200" stroke-width="0.5"/>
<path d="M365.87 497.14V506.13M364.22 497.14H367.52" stroke="#6e6e6e" stroke-width="0.75" fill="none"/>
<path d="M365.87 506.13V515.21M364.22 515.21H367.52" stroke="#222" stroke-width="0.75" fill="none" opacity="0.55"/>
<rect x="368.71" y="469.23" width="4.66" height="49.57" fill="#ff0000" stroke="#b00000" stroke-width="0.5"/>
<path d="M371.04 447.3V469.23M369.39 447.3H372.69" stroke="#6e6e6e" stroke-width="0.75" fill="none"/>
<path d="M371.04 469.23V492.6M369.39 492.6H372.69" stroke="#222" stroke-width="0.75" fill="none" opacity="0.55"/>
<rect x="373.87" y="466.14" width="4.66" height="52.66" fill="url(#pp)" stroke="#d84040" stroke-width="0.5"/>
<path d="M376.2 450.68V466.14M374.55 450.68H377.85" stroke="#6e6e6e" stroke-width="0.75" fill="none"/>
<path d="M376.2 466.14V481.98M374.55 481.98H377.85" stroke="#6e6e6e" stroke-width="0.75" fill="none"/>
<rect x="379.03" y="474.44" width="4.66" height="44.36" fill="#0000ff" stroke="#0000b0" stroke-width="0.5"/>
<path d="M381.36 471.06V474.44M379.71 471.06H383.01" stroke="#6e6e6e" stroke-width="0.75" fill="none"/>
<path d="M381.36 474.44V477.82M379.71 477.82H383.01" stroke="#222" stroke-width="0.75" fill="none" opacity="0.55"/>
<rect x="384.19" y="491.45" width="4.66" height="27.35" fill="url(#pb)" stroke="#4040d8" stroke-width="0.5"/>
<path d="M386.53 481.3V491.45M384.88 481.3H388.18" stroke="#6e6e6e" stroke-width="0.75" fill="none"/>
<path d="M386.53 491.45V501.59M384.88 501.59H388.18" stroke="#6e6e6e" stroke-width="0.75" fill="none"/>
<rect x="398.39" y="436.48" width="4.66" height="82.32" fill="#000000" stroke="#000000" stroke-width="0.5"/>
<path d="M400.72 393.98V436.48M399.07 393.98H402.37" stroke="#6e6e6e" stroke-width="0.75" fill="none"/>
<rect x="403.56" y="478.98" width="4.66" height="39.82" fill="url(#pg)" stroke="#4a4a4a" stroke-width="0.5"/>
<path d="M405.89 474.44V478.98M404.24 474.44H407.54" stroke="#6e6e6e" stroke-width="0.75" fill="none"/>
<path d="M405.89 478.98V483.52M404.24 483.52H407.54" stroke="#6e6e6e" stroke-width="0.75" fill="none"/>
<rect x="408.72" y="503.42" width="4.66" height="15.38" fill="#fbb117" stroke="#7a5200" stroke-width="0.5"/>
<path d="M411.05 491.45V503.42M409.4 491.45H412.7" stroke="#6e6e6e" stroke-width="0.75" fill="none"/>
<path d="M411.05 503.42V515.21M409.4 515.21H412.7" stroke="#222" stroke-width="0.75" fill="none" opacity="0.55"/>
<rect x="413.88" y="459.37" width="4.66" height="59.43" fill="#ff0000" stroke="#b00000" stroke-width="0.5"/>
<path d="M416.21 445.08V459.37M414.56 445.08H417.86" stroke="#6e6e6e" stroke-width="0.75" fill="none"/>
<path d="M416.21 459.37V474.44M414.56 474.44H417.86" stroke="#222" stroke-width="0.75" fill="none" opacity="0.55"/>
<rect x="419.04" y="453.67" width="4.66" height="65.13" fill="url(#pp)" stroke="#d84040" stroke-width="0.5"/>
<path d="M421.38 438.32V453.67M419.73 438.32H423.03" stroke="#6e6e6e" stroke-width="0.75" fill="none"/>
<path d="M421.38 453.67V469.23M419.73 469.23H423.03" stroke="#6e6e6e" stroke-width="0.75" fill="none"/>
<rect x="424.21" y="464.98" width="4.66" height="53.82" fill="#0000ff" stroke="#0000b0" stroke-width="0.5"/>
<path d="M426.54 450.29V464.98M424.89 450.29H428.19" stroke="#6e6e6e" stroke-width="0.75" fill="none"/>
<path d="M426.54 464.98V479.66M424.89 479.66H428.19" stroke="#222" stroke-width="0.75" fill="none" opacity="0.55"/>
<rect x="429.37" y="490.29" width="4.66" height="28.51" fill="url(#pb)" stroke="#4040d8" stroke-width="0.5"/>
<path d="M431.7 479.66V490.29M430.05 479.66H433.35" stroke="#6e6e6e" stroke-width="0.75" fill="none"/>
<path d="M431.7 490.29V500.53M430.05 500.53H433.35" stroke="#6e6e6e" stroke-width="0.75" fill="none"/>
<rect x="258.1" y="374.2" width="180.7" height="144.6" fill="none" stroke="#989898" stroke-width="0.95"/>
<text x="253.3" y="520.95" font-size="8.8" text-anchor="end" fill="#1a1a1a">0</text>
<text x="253.3" y="496.85" font-size="8.8" text-anchor="end" fill="#1a1a1a">25</text>
<text x="253.3" y="472.75" font-size="8.8" text-anchor="end" fill="#1a1a1a">50</text>
<text x="253.3" y="448.65" font-size="8.8" text-anchor="end" fill="#1a1a1a">75</text>
<text x="253.3" y="424.55" font-size="8.8" text-anchor="end" fill="#1a1a1a">100</text>
<text x="253.3" y="400.45" font-size="8.8" text-anchor="end" fill="#1a1a1a">125</text>
<text x="253.3" y="376.35" font-size="8.8" text-anchor="end" fill="#1a1a1a">150</text>
<path d="M255.1 518.8H258.1M255.1 494.7H258.1M255.1 470.6H258.1M255.1 446.5H258.1M255.1 422.4H258.1M255.1 398.3H258.1M255.1 374.2H258.1" stroke="#909090" stroke-width="0.8" fill="none"/>
<path d="M256.6 513.98H258.1M256.6 509.16H258.1M256.6 504.34H258.1M256.6 499.52H258.1M256.6 489.88H258.1M256.6 485.06H258.1M256.6 480.24H258.1M256.6 475.42H258.1M256.6 465.78H258.1M256.6 460.96H258.1M256.6 456.14H258.1M256.6 451.32H258.1M256.6 441.68H258.1M256.6 436.86H258.1M256.6 432.04H258.1M256.6 427.22H258.1M256.6 417.58H258.1M256.6 412.76H258.1M256.6 407.94H258.1M256.6 403.12H258.1M256.6 393.48H258.1M256.6 388.66H258.1M256.6 383.84H258.1M256.6 379.02H258.1" stroke="#909090" stroke-width="0.6" fill="none" opacity="0.9"/>
<text x="280.69" y="530.8" font-size="9.2" text-anchor="middle" fill="#1a1a1a">30</text>
<text x="325.86" y="530.8" font-size="9.2" text-anchor="middle" fill="#1a1a1a">40</text>
<text x="371.04" y="530.8" font-size="9.2" text-anchor="middle" fill="#1a1a1a">50</text>
<text x="416.21" y="530.8" font-size="9.2" text-anchor="middle" fill="#1a1a1a">60</text>
<path d="M280.69 518.8V521.8M325.86 518.8V521.8M371.04 518.8V521.8M416.21 518.8V521.8" stroke="#909090" stroke-width="0.8" fill="none"/>
<text x="348.6" y="546.2" font-size="9" font-weight="bold" text-anchor="middle" fill="#000">Temperature (ºC)</text>
<text transform="translate(229.45 446) rotate(-90)" font-size="9" font-weight="bold" text-anchor="middle" fill="#000">SRV (%)</text>
<text x="228.5" y="376.5" font-size="13.5" fill="#000">f</text>
<text x="263.7" y="382" font-size="7.35" fill="#000">Self-supported</text>
<rect x="265" y="385.5" width="13.5" height="7.2" fill="#000000" stroke="#000000" stroke-width="0.5"/>
<text x="282.4" y="391.43" font-size="7.35" fill="#000">FAA3-50</text>
<rect x="265" y="395.3" width="13.5" height="7.2" fill="#ff0000" stroke="#b00000" stroke-width="0.5"/>
<text x="282.4" y="401.23" font-size="7.35" fill="#000">PI-20</text>
<rect x="265" y="404.4" width="13.5" height="7.2" fill="#0000ff" stroke="#0000b0" stroke-width="0.5"/>
<text x="282.4" y="410.33" font-size="7.35" fill="#000"><tspan font-style="italic">m</tspan>TPN</text>
<rect x="265" y="413.6" width="13.5" height="7.2" fill="#fbb117" stroke="#7a5200" stroke-width="0.5"/>
<text x="282.4" y="419.53" font-size="7.35" fill="#000">Nafion 212</text>
<text x="320.7" y="382" font-size="7.35" fill="#000">Reinforced</text>
<rect x="322.3" y="385.5" width="13.4" height="7.2" fill="url(#pg)" stroke="#4a4a4a" stroke-width="0.5"/>
<text x="339.6" y="391.43" font-size="7.35" fill="#000">FAA3-PK-75</text>
<rect x="322.3" y="395.3" width="13.4" height="7.2" fill="url(#pp)" stroke="#d84040" stroke-width="0.5"/>
<text x="339.6" y="401.23" font-size="7.35" fill="#000">PI-15</text>
<rect x="322.3" y="404.4" width="13.4" height="7.2" fill="url(#pb)" stroke="#4040d8" stroke-width="0.5"/>
<text x="339.6" y="410.33" font-size="7.35" fill="#000">PBI/<tspan font-style="italic">m</tspan><tspan dx="0.3">TPN</tspan></text>
</g>
</svg>
</body></html>
